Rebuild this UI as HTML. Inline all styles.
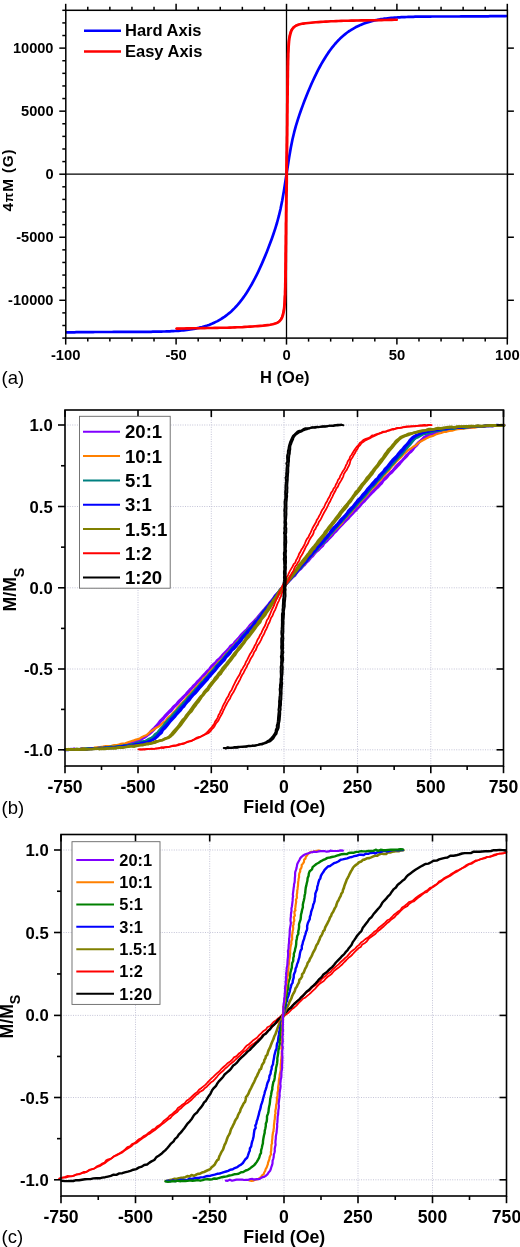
<!DOCTYPE html>
<html lang="en"><head><meta charset="utf-8"><title>Hysteresis loops</title>
<style>
html,body{margin:0;padding:0;background:#fff;}
body{width:520px;height:1247px;overflow:hidden;}
svg{display:block;font-family:"Liberation Sans",Arial,Helvetica,sans-serif;}
</style></head><body>
<svg width="520" height="1247" viewBox="0 0 520 1247">
<rect width="520" height="1247" fill="#fff"/>
<line x1="65.80" y1="174.20" x2="507.40" y2="174.20" stroke="#000" stroke-width="1.30" />
<line x1="286.50" y1="10.30" x2="286.50" y2="338.10" stroke="#000" stroke-width="1.30" />
<path d="M66.0 332.4 L67.7 332.3 L69.4 332.3 L71.1 332.3 L72.8 332.3 L74.5 332.3 L76.2 332.2 L77.9 332.2 L79.6 332.2 L81.3 332.2 L83.0 332.2 L84.7 332.1 L86.4 332.1 L88.1 332.1 L89.8 332.1 L91.5 332.1 L93.2 332.1 L94.9 332.0 L96.6 332.0 L98.4 332.0 L100.1 332.0 L101.8 332.0 L103.5 332.0 L105.2 332.0 L106.9 332.0 L108.6 332.0 L110.3 332.0 L112.0 332.0 L113.7 331.9 L115.4 331.9 L117.1 331.9 L118.8 331.9 L120.5 331.9 L122.2 331.9 L123.9 331.9 L125.6 331.9 L127.3 331.9 L129.0 331.9 L130.7 331.9 L132.4 331.9 L134.1 331.9 L135.8 331.9 L137.5 331.9 L139.2 331.9 L140.9 331.9 L142.6 331.8 L144.3 331.8 L146.0 331.8 L147.7 331.8 L149.4 331.8 L151.1 331.8 L152.8 331.7 L154.5 331.7 L156.2 331.7 L157.9 331.7 L159.6 331.6 L161.4 331.6 L163.1 331.5 L164.8 331.5 L166.5 331.4 L168.2 331.3 L169.9 331.3 L171.6 331.2 L173.3 331.1 L175.0 331.0 L176.7 330.9 L178.4 330.8 L180.1 330.6 L181.8 330.5 L183.5 330.3 L185.2 330.1 L186.9 329.9 L188.6 329.7 L190.3 329.4 L192.0 329.2 L193.7 328.9 L195.4 328.6 L197.1 328.2 L198.8 327.9 L200.5 327.4 L202.2 327.0 L203.9 326.5 L205.6 326.0 L207.3 325.5 L209.0 324.9 L210.7 324.2 L212.4 323.5 L214.1 322.7 L215.8 321.9 L217.5 321.1 L219.2 320.1 L220.9 319.1 L222.6 318.0 L224.4 316.9 L226.1 315.6 L227.8 314.3 L229.5 312.9 L231.2 311.4 L232.9 309.8 L234.6 308.1 L236.3 306.3 L238.0 304.4 L239.7 302.3 L241.4 300.2 L243.1 297.9 L244.8 295.5 L246.5 292.9 L248.2 290.2 L249.9 287.4 L251.6 284.5 L253.3 281.4 L255.0 278.2 L256.7 274.8 L258.4 271.3 L260.1 267.7 L261.8 263.9 L263.5 259.9 L265.2 255.9 L266.9 251.7 L268.6 247.3 L270.3 242.8 L272.0 238.2 L273.7 233.3 L275.4 228.1 L277.1 222.5 L278.8 216.2 L280.5 209.1 L282.2 200.7 L283.9 190.9 L285.6 179.9 L287.4 168.5 L289.1 157.5 L290.8 147.7 L292.5 139.3 L294.2 132.2 L295.9 125.9 L297.6 120.3 L299.3 115.1 L301.0 110.2 L302.7 105.6 L304.4 101.1 L306.1 96.7 L307.8 92.5 L309.5 88.5 L311.2 84.5 L312.9 80.7 L314.6 77.1 L316.3 73.6 L318.0 70.2 L319.7 67.0 L321.4 63.9 L323.1 61.0 L324.8 58.2 L326.5 55.5 L328.2 52.9 L329.9 50.5 L331.6 48.2 L333.3 46.1 L335.0 44.0 L336.7 42.1 L338.4 40.3 L340.1 38.6 L341.8 37.0 L343.5 35.5 L345.2 34.1 L346.9 32.8 L348.6 31.5 L350.4 30.4 L352.1 29.3 L353.8 28.3 L355.5 27.3 L357.2 26.5 L358.9 25.7 L360.6 24.9 L362.3 24.2 L364.0 23.5 L365.7 22.9 L367.4 22.4 L369.1 21.9 L370.8 21.4 L372.5 21.0 L374.2 20.5 L375.9 20.2 L377.6 19.8 L379.3 19.5 L381.0 19.2 L382.7 19.0 L384.4 18.7 L386.1 18.5 L387.8 18.3 L389.5 18.1 L391.2 17.9 L392.9 17.8 L394.6 17.6 L396.3 17.5 L398.0 17.4 L399.7 17.3 L401.4 17.2 L403.1 17.1 L404.8 17.1 L406.5 17.0 L408.2 16.9 L409.9 16.9 L411.6 16.8 L413.4 16.8 L415.1 16.7 L416.8 16.7 L418.5 16.7 L420.2 16.7 L421.9 16.6 L423.6 16.6 L425.3 16.6 L427.0 16.6 L428.7 16.6 L430.4 16.6 L432.1 16.5 L433.8 16.5 L435.5 16.5 L437.2 16.5 L438.9 16.5 L440.6 16.5 L442.3 16.5 L444.0 16.5 L445.7 16.5 L447.4 16.5 L449.1 16.5 L450.8 16.5 L452.5 16.5 L454.2 16.5 L455.9 16.5 L457.6 16.5 L459.3 16.5 L461.0 16.4 L462.7 16.4 L464.4 16.4 L466.1 16.4 L467.8 16.4 L469.5 16.4 L471.2 16.4 L472.9 16.4 L474.6 16.4 L476.4 16.4 L478.1 16.4 L479.8 16.3 L481.5 16.3 L483.2 16.3 L484.9 16.3 L486.6 16.3 L488.3 16.3 L490.0 16.2 L491.7 16.2 L493.4 16.2 L495.1 16.2 L496.8 16.2 L498.5 16.1 L500.2 16.1 L501.9 16.1 L503.6 16.1 L505.3 16.1 L507.0 16.0" fill="none" stroke="#0000ff" stroke-width="2.7" stroke-linejoin="round"/>
<path d="M176.8 328.6 L179.3 328.6 L181.9 328.5 L184.4 328.5 L186.9 328.4 L189.5 328.4 L192.0 328.3 L194.5 328.3 L197.0 328.2 L199.6 328.2 L202.1 328.1 L204.6 328.1 L207.2 328.0 L209.7 328.0 L212.2 328.0 L214.8 327.9 L217.3 327.9 L219.8 327.8 L222.3 327.8 L224.9 327.7 L227.4 327.7 L229.9 327.6 L232.5 327.5 L235.0 327.4 L237.5 327.3 L240.0 327.2 L242.6 327.1 L245.1 326.9 L247.6 326.8 L250.2 326.6 L252.7 326.5 L255.2 326.3 L257.7 326.1 L260.3 325.9 L262.8 325.7 L265.3 325.4 L267.8 325.1 L270.3 324.8 L272.8 324.3 L275.4 323.6 L277.7 322.6 L279.6 321.3 L281.3 319.2 L282.4 317.0 L283.1 314.6 L283.7 312.1 L284.2 309.6 L284.5 307.0 L284.7 304.5 L284.9 302.0 L285.0 299.5 L285.1 296.9 L285.3 294.4 L285.3 291.9 L285.4 289.3 L285.5 286.8 L285.5 284.3 L285.6 281.7 L285.6 279.2 L285.7 276.7 L285.7 274.2 L285.7 271.6 L285.8 269.1 L285.8 266.6 L285.8 264.0 L285.9 261.5 L285.9 259.0 L285.9 256.4 L285.9 253.9 L286.0 251.4 L286.0 248.8 L286.0 246.3 L286.1 243.8 L286.1 241.3 L286.1 238.7 L286.1 236.2 L286.2 233.7 L286.2 231.1 L286.2 228.6 L286.2 226.1 L286.2 223.5 L286.3 221.0 L286.3 218.5 L286.3 216.0 L286.3 213.4 L286.4 210.9 L286.4 208.4 L286.4 205.8 L286.5 203.3 L286.5 200.8 L286.5 198.2 L286.6 195.7 L286.6 193.2 L286.7 190.6 L286.7 188.1 L286.7 185.6 L286.8 183.1 L286.8 180.5 L286.8 178.0 L286.8 175.5 L286.8 172.9 L286.8 170.4 L286.8 167.9 L286.8 165.3 L286.9 162.8 L286.9 160.3 L286.9 157.8 L287.0 155.2 L287.0 152.7 L287.1 150.2 L287.1 147.6 L287.1 145.1 L287.2 142.6 L287.2 140.0 L287.2 137.5 L287.3 135.0 L287.3 132.4 L287.3 129.9 L287.3 127.4 L287.4 124.9 L287.4 122.3 L287.4 119.8 L287.4 117.3 L287.4 114.7 L287.5 112.2 L287.5 109.7 L287.5 107.1 L287.5 104.6 L287.6 102.1 L287.6 99.6 L287.6 97.0 L287.7 94.5 L287.7 92.0 L287.7 89.4 L287.7 86.9 L287.8 84.4 L287.8 81.8 L287.8 79.3 L287.9 76.8 L287.9 74.2 L287.9 71.7 L288.0 69.2 L288.0 66.7 L288.1 64.1 L288.1 61.6 L288.2 59.1 L288.3 56.5 L288.3 54.0 L288.5 51.5 L288.6 48.9 L288.7 46.4 L288.9 43.9 L289.1 41.4 L289.4 38.8 L289.9 36.3 L290.5 33.8 L291.2 31.4 L292.3 29.2 L294.0 27.1 L295.9 25.8 L298.2 24.8 L300.8 24.1 L303.3 23.6 L305.8 23.3 L308.3 23.0 L310.8 22.7 L313.3 22.5 L315.9 22.3 L318.4 22.1 L320.9 21.9 L323.4 21.8 L326.0 21.6 L328.5 21.5 L331.0 21.3 L333.6 21.2 L336.1 21.1 L338.6 21.0 L341.1 20.9 L343.7 20.8 L346.2 20.7 L348.7 20.7 L351.3 20.6 L353.8 20.6 L356.3 20.5 L358.8 20.5 L361.4 20.4 L363.9 20.4 L366.4 20.4 L369.0 20.3 L371.5 20.3 L374.0 20.2 L376.6 20.2 L379.1 20.1 L381.6 20.1 L384.1 20.0 L386.7 20.0 L389.2 19.9 L391.7 19.9 L394.3 19.8 L396.8 19.8" fill="none" stroke="#ff0000" stroke-width="2.60" stroke-linejoin="round" stroke-linecap="round"/>
<path d="M176.0 328.6 L178.5 328.6 L181.1 328.5 L183.6 328.5 L186.1 328.4 L188.7 328.4 L191.2 328.3 L193.7 328.3 L196.2 328.2 L198.8 328.2 L201.3 328.1 L203.8 328.1 L206.4 328.0 L208.9 328.0 L211.4 328.0 L214.0 327.9 L216.5 327.9 L219.0 327.8 L221.5 327.8 L224.1 327.7 L226.6 327.7 L229.1 327.6 L231.7 327.5 L234.2 327.4 L236.7 327.3 L239.2 327.2 L241.8 327.1 L244.3 326.9 L246.8 326.8 L249.4 326.6 L251.9 326.5 L254.4 326.3 L256.9 326.1 L259.5 325.9 L262.0 325.7 L264.5 325.4 L267.0 325.1 L269.5 324.8 L272.0 324.3 L274.6 323.6 L276.9 322.6 L278.8 321.3 L280.5 319.2 L281.6 317.0 L282.3 314.6 L282.9 312.1 L283.4 309.6 L283.7 307.0 L283.9 304.5 L284.1 302.0 L284.2 299.5 L284.3 296.9 L284.5 294.4 L284.5 291.9 L284.6 289.3 L284.7 286.8 L284.7 284.3 L284.8 281.7 L284.8 279.2 L284.9 276.7 L284.9 274.2 L284.9 271.6 L285.0 269.1 L285.0 266.6 L285.0 264.0 L285.1 261.5 L285.1 259.0 L285.1 256.4 L285.1 253.9 L285.2 251.4 L285.2 248.8 L285.2 246.3 L285.3 243.8 L285.3 241.3 L285.3 238.7 L285.3 236.2 L285.4 233.7 L285.4 231.1 L285.4 228.6 L285.4 226.1 L285.4 223.5 L285.5 221.0 L285.5 218.5 L285.5 216.0 L285.5 213.4 L285.6 210.9 L285.6 208.4 L285.6 205.8 L285.7 203.3 L285.7 200.8 L285.7 198.2 L285.8 195.7 L285.8 193.2 L285.9 190.6 L285.9 188.1 L285.9 185.6 L286.0 183.1 L286.0 180.5 L286.0 178.0 L286.0 175.5 L286.0 172.9 L286.0 170.4 L286.0 167.9 L286.0 165.3 L286.1 162.8 L286.1 160.3 L286.1 157.8 L286.2 155.2 L286.2 152.7 L286.3 150.2 L286.3 147.6 L286.3 145.1 L286.4 142.6 L286.4 140.0 L286.4 137.5 L286.5 135.0 L286.5 132.4 L286.5 129.9 L286.5 127.4 L286.6 124.9 L286.6 122.3 L286.6 119.8 L286.6 117.3 L286.6 114.7 L286.7 112.2 L286.7 109.7 L286.7 107.1 L286.7 104.6 L286.8 102.1 L286.8 99.6 L286.8 97.0 L286.9 94.5 L286.9 92.0 L286.9 89.4 L286.9 86.9 L287.0 84.4 L287.0 81.8 L287.0 79.3 L287.1 76.8 L287.1 74.2 L287.1 71.7 L287.2 69.2 L287.2 66.7 L287.3 64.1 L287.3 61.6 L287.4 59.1 L287.5 56.5 L287.5 54.0 L287.7 51.5 L287.8 48.9 L287.9 46.4 L288.1 43.9 L288.3 41.4 L288.6 38.8 L289.1 36.3 L289.7 33.8 L290.4 31.4 L291.5 29.2 L293.2 27.1 L295.1 25.8 L297.4 24.8 L300.0 24.1 L302.5 23.6 L305.0 23.3 L307.5 23.0 L310.0 22.7 L312.5 22.5 L315.1 22.3 L317.6 22.1 L320.1 21.9 L322.6 21.8 L325.2 21.6 L327.7 21.5 L330.2 21.3 L332.8 21.2 L335.3 21.1 L337.8 21.0 L340.3 20.9 L342.9 20.8 L345.4 20.7 L347.9 20.7 L350.5 20.6 L353.0 20.6 L355.5 20.5 L358.0 20.5 L360.6 20.4 L363.1 20.4 L365.6 20.4 L368.2 20.3 L370.7 20.3 L373.2 20.2 L375.8 20.2 L378.3 20.1 L380.8 20.1 L383.3 20.0 L385.9 20.0 L388.4 19.9 L390.9 19.9 L393.5 19.8 L396.0 19.8" fill="none" stroke="#ff0000" stroke-width="1.60" stroke-linejoin="round" stroke-linecap="round"/>
<rect x="65.80" y="10.30" width="441.60" height="327.80" fill="none" stroke="#000" stroke-width="1.50"/>
<line x1="65.70" y1="10.30" x2="65.70" y2="3.80" stroke="#000" stroke-width="1.50" />
<line x1="65.70" y1="338.10" x2="65.70" y2="344.60" stroke="#000" stroke-width="1.50" />
<text x="65.70" y="359.80" font-size="14.80" font-weight="bold" text-anchor="middle" >-100</text>
<line x1="87.78" y1="10.30" x2="87.78" y2="6.80" stroke="#000" stroke-width="1.50" />
<line x1="87.78" y1="338.10" x2="87.78" y2="341.60" stroke="#000" stroke-width="1.50" />
<line x1="109.86" y1="10.30" x2="109.86" y2="6.80" stroke="#000" stroke-width="1.50" />
<line x1="109.86" y1="338.10" x2="109.86" y2="341.60" stroke="#000" stroke-width="1.50" />
<line x1="131.94" y1="10.30" x2="131.94" y2="6.80" stroke="#000" stroke-width="1.50" />
<line x1="131.94" y1="338.10" x2="131.94" y2="341.60" stroke="#000" stroke-width="1.50" />
<line x1="154.02" y1="10.30" x2="154.02" y2="6.80" stroke="#000" stroke-width="1.50" />
<line x1="154.02" y1="338.10" x2="154.02" y2="341.60" stroke="#000" stroke-width="1.50" />
<line x1="176.10" y1="10.30" x2="176.10" y2="3.80" stroke="#000" stroke-width="1.50" />
<line x1="176.10" y1="338.10" x2="176.10" y2="344.60" stroke="#000" stroke-width="1.50" />
<text x="176.10" y="359.80" font-size="14.80" font-weight="bold" text-anchor="middle" >-50</text>
<line x1="198.18" y1="10.30" x2="198.18" y2="6.80" stroke="#000" stroke-width="1.50" />
<line x1="198.18" y1="338.10" x2="198.18" y2="341.60" stroke="#000" stroke-width="1.50" />
<line x1="220.26" y1="10.30" x2="220.26" y2="6.80" stroke="#000" stroke-width="1.50" />
<line x1="220.26" y1="338.10" x2="220.26" y2="341.60" stroke="#000" stroke-width="1.50" />
<line x1="242.34" y1="10.30" x2="242.34" y2="6.80" stroke="#000" stroke-width="1.50" />
<line x1="242.34" y1="338.10" x2="242.34" y2="341.60" stroke="#000" stroke-width="1.50" />
<line x1="264.42" y1="10.30" x2="264.42" y2="6.80" stroke="#000" stroke-width="1.50" />
<line x1="264.42" y1="338.10" x2="264.42" y2="341.60" stroke="#000" stroke-width="1.50" />
<line x1="286.50" y1="10.30" x2="286.50" y2="3.80" stroke="#000" stroke-width="1.50" />
<line x1="286.50" y1="338.10" x2="286.50" y2="344.60" stroke="#000" stroke-width="1.50" />
<text x="286.50" y="359.80" font-size="14.80" font-weight="bold" text-anchor="middle" >0</text>
<line x1="308.58" y1="10.30" x2="308.58" y2="6.80" stroke="#000" stroke-width="1.50" />
<line x1="308.58" y1="338.10" x2="308.58" y2="341.60" stroke="#000" stroke-width="1.50" />
<line x1="330.66" y1="10.30" x2="330.66" y2="6.80" stroke="#000" stroke-width="1.50" />
<line x1="330.66" y1="338.10" x2="330.66" y2="341.60" stroke="#000" stroke-width="1.50" />
<line x1="352.74" y1="10.30" x2="352.74" y2="6.80" stroke="#000" stroke-width="1.50" />
<line x1="352.74" y1="338.10" x2="352.74" y2="341.60" stroke="#000" stroke-width="1.50" />
<line x1="374.82" y1="10.30" x2="374.82" y2="6.80" stroke="#000" stroke-width="1.50" />
<line x1="374.82" y1="338.10" x2="374.82" y2="341.60" stroke="#000" stroke-width="1.50" />
<line x1="396.90" y1="10.30" x2="396.90" y2="3.80" stroke="#000" stroke-width="1.50" />
<line x1="396.90" y1="338.10" x2="396.90" y2="344.60" stroke="#000" stroke-width="1.50" />
<text x="396.90" y="359.80" font-size="14.80" font-weight="bold" text-anchor="middle" >50</text>
<line x1="418.98" y1="10.30" x2="418.98" y2="6.80" stroke="#000" stroke-width="1.50" />
<line x1="418.98" y1="338.10" x2="418.98" y2="341.60" stroke="#000" stroke-width="1.50" />
<line x1="441.06" y1="10.30" x2="441.06" y2="6.80" stroke="#000" stroke-width="1.50" />
<line x1="441.06" y1="338.10" x2="441.06" y2="341.60" stroke="#000" stroke-width="1.50" />
<line x1="463.14" y1="10.30" x2="463.14" y2="6.80" stroke="#000" stroke-width="1.50" />
<line x1="463.14" y1="338.10" x2="463.14" y2="341.60" stroke="#000" stroke-width="1.50" />
<line x1="485.22" y1="10.30" x2="485.22" y2="6.80" stroke="#000" stroke-width="1.50" />
<line x1="485.22" y1="338.10" x2="485.22" y2="341.60" stroke="#000" stroke-width="1.50" />
<line x1="507.30" y1="10.30" x2="507.30" y2="3.80" stroke="#000" stroke-width="1.50" />
<line x1="507.30" y1="338.10" x2="507.30" y2="344.60" stroke="#000" stroke-width="1.50" />
<text x="507.30" y="359.80" font-size="14.80" font-weight="bold" text-anchor="middle" >100</text>
<line x1="65.80" y1="338.10" x2="62.30" y2="338.10" stroke="#000" stroke-width="1.50" />
<line x1="65.80" y1="325.49" x2="62.30" y2="325.49" stroke="#000" stroke-width="1.50" />
<line x1="65.80" y1="312.88" x2="62.30" y2="312.88" stroke="#000" stroke-width="1.50" />
<line x1="65.80" y1="300.28" x2="59.30" y2="300.28" stroke="#000" stroke-width="1.50" />
<line x1="507.40" y1="300.28" x2="513.90" y2="300.28" stroke="#000" stroke-width="1.50" />
<text x="53.50" y="305.48" font-size="14.60" font-weight="bold" text-anchor="end" >-10000</text>
<line x1="65.80" y1="287.67" x2="62.30" y2="287.67" stroke="#000" stroke-width="1.50" />
<line x1="65.80" y1="275.06" x2="62.30" y2="275.06" stroke="#000" stroke-width="1.50" />
<line x1="65.80" y1="262.45" x2="62.30" y2="262.45" stroke="#000" stroke-width="1.50" />
<line x1="65.80" y1="249.85" x2="62.30" y2="249.85" stroke="#000" stroke-width="1.50" />
<line x1="65.80" y1="237.24" x2="59.30" y2="237.24" stroke="#000" stroke-width="1.50" />
<line x1="507.40" y1="237.24" x2="513.90" y2="237.24" stroke="#000" stroke-width="1.50" />
<text x="53.50" y="242.44" font-size="14.60" font-weight="bold" text-anchor="end" >-5000</text>
<line x1="65.80" y1="224.63" x2="62.30" y2="224.63" stroke="#000" stroke-width="1.50" />
<line x1="65.80" y1="212.02" x2="62.30" y2="212.02" stroke="#000" stroke-width="1.50" />
<line x1="65.80" y1="199.42" x2="62.30" y2="199.42" stroke="#000" stroke-width="1.50" />
<line x1="65.80" y1="186.81" x2="62.30" y2="186.81" stroke="#000" stroke-width="1.50" />
<line x1="65.80" y1="174.20" x2="59.30" y2="174.20" stroke="#000" stroke-width="1.50" />
<line x1="507.40" y1="174.20" x2="513.90" y2="174.20" stroke="#000" stroke-width="1.50" />
<text x="53.50" y="179.40" font-size="14.60" font-weight="bold" text-anchor="end" >0</text>
<line x1="65.80" y1="161.59" x2="62.30" y2="161.59" stroke="#000" stroke-width="1.50" />
<line x1="65.80" y1="148.98" x2="62.30" y2="148.98" stroke="#000" stroke-width="1.50" />
<line x1="65.80" y1="136.38" x2="62.30" y2="136.38" stroke="#000" stroke-width="1.50" />
<line x1="65.80" y1="123.77" x2="62.30" y2="123.77" stroke="#000" stroke-width="1.50" />
<line x1="65.80" y1="111.16" x2="59.30" y2="111.16" stroke="#000" stroke-width="1.50" />
<line x1="507.40" y1="111.16" x2="513.90" y2="111.16" stroke="#000" stroke-width="1.50" />
<text x="53.50" y="116.36" font-size="14.60" font-weight="bold" text-anchor="end" >5000</text>
<line x1="65.80" y1="98.55" x2="62.30" y2="98.55" stroke="#000" stroke-width="1.50" />
<line x1="65.80" y1="85.95" x2="62.30" y2="85.95" stroke="#000" stroke-width="1.50" />
<line x1="65.80" y1="73.34" x2="62.30" y2="73.34" stroke="#000" stroke-width="1.50" />
<line x1="65.80" y1="60.73" x2="62.30" y2="60.73" stroke="#000" stroke-width="1.50" />
<line x1="65.80" y1="48.12" x2="59.30" y2="48.12" stroke="#000" stroke-width="1.50" />
<line x1="507.40" y1="48.12" x2="513.90" y2="48.12" stroke="#000" stroke-width="1.50" />
<text x="53.50" y="53.32" font-size="14.60" font-weight="bold" text-anchor="end" >10000</text>
<line x1="65.80" y1="35.52" x2="62.30" y2="35.52" stroke="#000" stroke-width="1.50" />
<line x1="65.80" y1="22.91" x2="62.30" y2="22.91" stroke="#000" stroke-width="1.50" />
<line x1="65.80" y1="10.30" x2="62.30" y2="10.30" stroke="#000" stroke-width="1.50" />
<text x="284.80" y="383.00" font-size="16.50" font-weight="bold" text-anchor="middle" >H (Oe)</text>
<text transform="translate(13.3,180) rotate(-90)" font-size="15.4" font-weight="bold" text-anchor="middle" letter-spacing="0.8">4<tspan font-size="12.5">π</tspan>M (G)</text>
<text x="1.50" y="383.50" font-size="18.50" font-weight="normal" text-anchor="start" >(a)</text>
<line x1="84.00" y1="30.80" x2="121.00" y2="30.80" stroke="#0000ff" stroke-width="2.40" />
<line x1="84.00" y1="51.50" x2="121.00" y2="51.50" stroke="#ff0000" stroke-width="2.40" />
<text x="125.00" y="36.30" font-size="16.50" font-weight="bold" text-anchor="start" >Hard Axis</text>
<text x="125.00" y="57.20" font-size="16.50" font-weight="bold" text-anchor="start" >Easy Axis</text>
<line x1="65.00" y1="425.00" x2="503.50" y2="425.00" stroke="#bdbdd2" stroke-width="0.90" stroke-dasharray="1 1.4"/>
<line x1="65.00" y1="506.50" x2="503.50" y2="506.50" stroke="#bdbdd2" stroke-width="0.90" stroke-dasharray="1 1.4"/>
<line x1="65.00" y1="587.80" x2="503.50" y2="587.80" stroke="#bdbdd2" stroke-width="0.90" stroke-dasharray="1 1.4"/>
<line x1="65.00" y1="669.00" x2="503.50" y2="669.00" stroke="#bdbdd2" stroke-width="0.90" stroke-dasharray="1 1.4"/>
<line x1="65.00" y1="749.80" x2="503.50" y2="749.80" stroke="#bdbdd2" stroke-width="0.90" stroke-dasharray="1 1.4"/>
<line x1="138.00" y1="410.00" x2="138.00" y2="766.00" stroke="#bdbdd2" stroke-width="0.90" stroke-dasharray="1 1.4"/>
<line x1="211.30" y1="410.00" x2="211.30" y2="766.00" stroke="#bdbdd2" stroke-width="0.90" stroke-dasharray="1 1.4"/>
<line x1="284.00" y1="410.00" x2="284.00" y2="766.00" stroke="#bdbdd2" stroke-width="0.90" stroke-dasharray="1 1.4"/>
<line x1="357.50" y1="410.00" x2="357.50" y2="766.00" stroke="#bdbdd2" stroke-width="0.90" stroke-dasharray="1 1.4"/>
<line x1="430.80" y1="410.00" x2="430.80" y2="766.00" stroke="#bdbdd2" stroke-width="0.90" stroke-dasharray="1 1.4"/>
<path d="M65.4 749.7 L68.3 749.7 L70.7 749.5 L73.8 749.0 L76.5 749.4 L79.5 749.1 L82.1 748.8 L85.5 748.8 L87.9 748.6 L90.9 748.4 L93.9 748.1 L96.6 748.1 L99.5 747.6 L102.3 747.5 L105.2 747.2 L107.9 747.1 L110.9 746.7 L113.8 746.3 L116.6 745.9 L119.5 745.6 L122.3 745.2 L125.3 744.6 L127.9 744.2 L130.7 743.5 L133.4 741.8 L136.1 741.0 L138.7 740.3 L141.5 739.0 L143.7 737.6 L146.1 735.9 L148.4 734.4 L150.4 731.6 L152.3 729.7 L154.0 728.1 L156.3 725.7 L158.1 723.5 L159.8 721.1 L162.1 718.8 L163.8 717.1 L165.7 714.9 L167.9 712.6 L169.8 710.6 L171.8 708.6 L173.5 706.4 L176.0 704.5 L177.6 702.4 L179.5 700.3 L181.8 698.1 L183.6 696.3 L185.7 694.3 L187.5 692.0 L189.6 689.7 L191.6 687.9 L193.4 685.6 L195.6 683.8 L197.4 681.3 L199.3 679.6 L201.4 677.3 L203.4 675.0 L205.3 673.1 L207.1 671.1 L209.3 669.0 L210.9 666.7 L213.0 664.5 L215.2 662.7 L216.9 660.5 L219.1 658.6 L221.1 656.6 L223.2 654.0 L224.9 652.3 L226.9 650.4 L229.0 648.0 L230.6 645.8 L233.4 644.0 L234.7 641.8 L236.7 639.9 L238.9 637.5 L240.7 635.1 L242.4 633.3 L244.7 631.2 L246.7 629.3 L248.5 627.1 L250.4 624.6 L252.5 622.5 L254.2 620.9 L256.3 618.7 L258.2 616.2 L259.9 614.2 L261.7 612.1 L263.7 609.9 L265.4 607.8 L267.5 605.4 L269.2 603.1 L271.1 600.9 L272.8 598.9 L274.7 595.9 L276.3 594.2 L278.4 592.0 L280.4 589.5 L282.0 587.7 L283.8 585.3 L285.8 583.5 L287.7 581.2 L289.6 579.3 L291.7 577.3 L293.6 575.0 L295.9 572.7 L297.6 570.5 L299.7 569.1 L301.8 566.6 L303.5 564.4 L305.8 562.5 L307.5 560.4 L309.4 558.5 L311.4 556.2 L313.4 554.1 L315.2 551.9 L317.4 550.1 L319.1 547.6 L321.6 545.9 L323.3 544.0 L325.2 541.3 L327.1 539.0 L329.2 537.5 L331.2 535.9 L333.0 533.0 L335.0 530.9 L337.1 529.2 L339.0 526.8 L341.2 524.7 L343.2 522.7 L345.0 520.8 L347.0 518.5 L348.7 516.6 L351.0 514.4 L352.8 512.1 L354.9 510.2 L357.0 507.9 L358.4 506.0 L360.8 503.7 L362.5 501.6 L364.7 500.1 L366.4 497.7 L368.5 495.6 L370.6 493.6 L372.6 491.3 L374.5 489.3 L376.3 487.3 L378.4 485.2 L380.5 482.8 L382.4 481.1 L384.1 478.7 L386.5 476.5 L388.4 474.5 L390.4 472.5 L392.2 470.9 L394.4 468.2 L396.0 466.4 L398.3 463.8 L400.1 462.2 L402.2 460.3 L404.2 457.9 L405.9 455.7 L408.0 453.8 L409.9 451.8 L412.0 449.6 L413.8 447.8 L415.5 445.3 L417.7 443.0 L419.8 441.1 L422.1 439.2 L423.8 437.4 L426.5 435.9 L429.4 434.7 L431.6 433.3 L434.3 432.8 L437.3 431.6 L440.2 430.8 L442.7 430.5 L445.7 430.1 L448.5 429.4 L451.6 429.0 L454.2 428.4 L457.2 428.9 L459.7 428.2 L462.7 427.5 L465.6 427.3 L468.7 427.3 L471.4 426.7 L474.1 426.9 L477.2 426.6 L480.1 426.7 L482.8 426.5 L485.6 425.5 L488.5 426.0 L491.1 425.5 L494.3 425.9 L497.2 425.6 L499.9 425.6 L503.0 425.2" fill="none" stroke="#8000ff" stroke-width="2.40" stroke-linejoin="round" stroke-linecap="round"/>
<path d="M66.4 749.6 L69.1 749.4 L72.2 749.3 L74.8 748.8 L78.0 749.6 L80.7 749.3 L83.3 748.8 L86.1 748.9 L89.2 748.6 L92.3 748.2 L95.0 748.4 L97.9 747.9 L100.7 747.7 L103.7 747.3 L106.5 747.4 L109.4 747.0 L112.0 746.8 L115.2 746.3 L118.1 746.1 L120.5 745.5 L123.9 745.4 L126.5 744.7 L129.1 744.0 L131.6 743.3 L134.8 742.1 L137.5 741.6 L140.0 740.7 L142.4 738.7 L145.3 737.2 L147.3 735.5 L149.5 734.1 L152.0 731.9 L153.9 730.0 L155.6 727.8 L157.3 725.6 L159.4 723.4 L160.9 721.2 L163.2 719.3 L165.0 716.8 L166.9 714.8 L168.8 712.9 L171.1 711.1 L173.0 708.5 L175.0 706.3 L177.1 704.4 L178.8 702.6 L180.7 700.3 L182.6 698.5 L184.8 695.7 L186.9 694.3 L188.8 692.2 L190.9 689.6 L192.5 687.8 L194.6 686.0 L196.5 683.6 L198.4 681.7 L200.9 679.9 L202.7 677.4 L204.4 675.2 L206.4 673.0 L208.5 671.2 L210.2 668.9 L212.5 666.8 L214.2 664.8 L216.3 662.8 L218.2 660.4 L220.2 658.2 L222.1 655.9 L224.0 654.6 L226.1 652.3 L228.1 650.5 L230.1 648.1 L232.1 645.8 L234.3 644.0 L236.2 641.8 L238.0 639.4 L240.1 637.4 L241.8 635.9 L244.1 633.4 L245.9 631.3 L247.6 629.1 L249.8 626.9 L251.8 625.1 L253.2 622.8 L255.4 620.5 L257.4 618.5 L259.0 616.2 L261.1 614.2 L263.0 612.3 L265.0 609.6 L266.8 607.9 L269.0 605.2 L270.3 603.2 L272.4 600.7 L274.0 598.6 L275.9 596.5 L277.5 594.1 L279.2 591.9 L281.2 589.7 L283.3 587.5 L285.3 585.1 L287.1 583.3 L289.0 581.3 L290.8 579.3 L293.1 577.2 L295.1 575.5 L296.8 572.9 L298.8 570.7 L300.7 569.1 L303.0 566.4 L304.9 564.8 L306.8 562.3 L308.8 560.5 L310.8 557.9 L312.6 556.4 L314.5 554.1 L316.4 551.8 L318.3 550.3 L320.6 548.0 L322.9 545.8 L324.2 543.5 L326.5 541.6 L328.5 539.5 L330.3 537.6 L332.4 535.5 L334.2 533.1 L336.5 531.0 L338.2 528.9 L340.3 526.7 L342.3 524.7 L344.1 522.7 L345.9 520.8 L348.1 518.9 L350.2 516.3 L352.1 514.5 L354.1 512.2 L355.8 510.7 L358.0 508.1 L360.1 506.1 L361.9 503.7 L364.2 501.7 L365.8 499.8 L367.7 497.6 L369.5 495.7 L371.9 493.1 L373.7 491.5 L375.9 489.1 L377.7 487.6 L379.9 485.1 L381.8 483.3 L383.5 480.6 L385.6 478.9 L387.7 476.6 L389.3 474.6 L391.7 472.6 L393.6 470.4 L395.6 468.5 L397.4 466.5 L399.4 464.4 L401.2 462.1 L403.3 459.8 L405.2 457.8 L407.2 455.8 L409.1 453.3 L411.2 451.8 L413.2 449.4 L414.7 447.3 L417.0 445.4 L418.5 443.3 L420.5 441.1 L423.0 438.9 L425.3 437.5 L427.8 436.0 L430.1 434.5 L433.0 433.9 L435.7 432.7 L438.7 431.3 L441.2 431.1 L444.1 430.1 L446.7 430.1 L449.7 429.5 L452.5 428.7 L455.5 428.4 L458.1 428.3 L461.0 427.9 L464.0 428.1 L467.1 427.6 L469.7 427.2 L472.6 427.2 L475.4 426.4 L478.4 426.7 L481.2 426.7 L484.3 426.3 L486.9 426.0 L489.6 426.1 L492.5 426.3 L495.3 425.7 L498.2 425.3 L501.4 425.8 L504.2 425.0" fill="none" stroke="#8000ff" stroke-width="2.40" stroke-linejoin="round" stroke-linecap="round"/>
<path d="M66.0 750.0 L68.6 748.9 L71.5 749.5 L74.3 749.1 L76.9 749.0 L80.2 748.8 L82.6 748.2 L85.9 748.4 L88.6 748.0 L91.6 748.7 L94.3 747.7 L97.0 747.3 L100.1 747.1 L102.8 746.7 L105.7 746.2 L108.6 746.0 L111.4 745.8 L114.2 745.2 L116.9 745.0 L119.9 744.2 L122.3 743.7 L125.4 743.3 L128.0 742.3 L131.1 741.2 L133.9 740.4 L136.1 739.6 L139.1 738.9 L141.7 737.3 L144.2 736.0 L146.9 734.9 L149.1 732.9 L151.1 731.2 L153.6 729.7 L156.0 728.0 L158.6 726.6 L160.7 725.1 L163.2 722.4 L165.3 721.3 L167.0 718.8 L169.1 716.6 L171.1 715.0 L173.0 713.0 L175.3 710.6 L177.0 708.3 L178.7 706.4 L180.6 704.2 L182.6 702.3 L184.8 700.0 L186.4 697.8 L188.3 695.8 L190.3 693.4 L192.1 691.1 L194.4 689.3 L195.9 687.2 L198.1 684.9 L199.9 682.7 L201.9 680.8 L203.5 678.1 L205.9 676.6 L207.6 674.5 L209.5 671.9 L211.3 670.1 L213.3 667.8 L215.4 666.0 L217.4 663.3 L219.3 661.4 L221.3 659.7 L223.1 657.7 L225.0 654.8 L227.0 653.1 L228.9 651.1 L230.7 648.8 L232.8 647.2 L234.8 644.4 L236.5 642.6 L238.4 640.2 L240.4 638.6 L242.5 636.1 L244.1 633.9 L246.1 631.5 L248.0 630.1 L250.1 627.7 L251.5 625.6 L253.7 623.5 L255.7 621.2 L257.3 618.8 L259.5 616.6 L261.2 614.4 L262.9 612.7 L264.8 609.8 L266.3 607.8 L268.3 605.6 L270.4 603.4 L271.7 601.2 L273.9 598.6 L275.4 596.2 L277.3 594.3 L279.0 592.4 L280.4 590.0 L282.5 587.7 L284.5 585.4 L286.2 583.4 L288.0 581.1 L290.2 579.2 L292.0 576.7 L293.8 574.8 L295.9 572.7 L298.0 570.7 L299.8 568.5 L302.0 566.9 L304.0 564.6 L305.7 562.5 L307.5 559.6 L309.4 557.9 L311.5 555.7 L313.6 553.8 L315.4 551.1 L317.4 549.7 L319.1 547.6 L321.2 544.9 L323.0 542.9 L324.9 540.8 L326.7 538.8 L328.6 536.9 L330.7 535.0 L332.5 532.4 L334.5 530.5 L336.7 528.3 L338.5 526.5 L340.9 524.1 L342.5 522.2 L344.2 519.5 L346.3 517.6 L348.2 515.3 L349.9 513.7 L352.1 511.4 L353.8 509.1 L355.4 506.9 L357.9 505.0 L359.6 502.6 L361.8 500.4 L363.4 498.6 L365.3 496.9 L367.6 494.2 L369.2 492.0 L371.3 489.8 L373.4 487.6 L375.1 485.9 L377.0 483.8 L379.0 481.5 L381.0 479.5 L382.7 477.3 L384.8 475.2 L386.7 472.6 L388.9 470.7 L390.3 468.7 L392.1 466.3 L394.3 464.2 L396.0 462.0 L398.1 460.0 L400.0 458.2 L402.2 455.9 L403.9 453.9 L406.1 452.1 L407.9 450.2 L410.5 448.8 L413.4 446.6 L415.4 445.7 L417.7 443.6 L419.8 441.9 L422.5 440.5 L424.9 439.2 L427.3 437.9 L430.2 436.6 L432.8 435.9 L435.6 434.5 L438.1 433.6 L441.2 433.0 L443.8 432.0 L446.5 431.8 L449.2 431.0 L452.1 430.7 L455.1 429.7 L457.7 429.2 L460.8 428.9 L463.6 428.7 L466.5 428.1 L469.3 428.0 L472.0 427.6 L474.6 427.7 L477.8 426.9 L480.7 427.0 L483.5 426.4 L486.4 426.1 L489.1 426.0 L492.0 425.7 L494.7 425.8 L498.0 425.9 L500.7 425.5 L503.4 425.5" fill="none" stroke="#ff8000" stroke-width="2.20" stroke-linejoin="round" stroke-linecap="round"/>
<path d="M65.0 749.6 L68.1 749.6 L71.1 749.9 L73.5 749.6 L76.9 748.9 L79.2 749.2 L82.4 748.9 L85.4 748.9 L88.1 748.4 L90.9 748.6 L94.1 748.4 L97.1 748.6 L99.8 748.1 L102.9 747.9 L105.5 747.3 L108.8 747.9 L111.4 746.7 L114.3 747.1 L117.2 746.5 L120.1 746.0 L123.2 745.7 L126.1 745.3 L128.7 745.0 L131.5 744.4 L134.1 744.1 L137.0 742.8 L140.0 742.5 L142.8 741.5 L145.5 741.0 L148.2 739.2 L150.8 738.2 L152.9 736.7 L155.0 734.3 L157.3 732.7 L159.2 730.3 L160.9 728.4 L163.1 726.2 L164.7 723.6 L166.7 721.5 L168.4 719.4 L170.7 717.5 L172.5 715.3 L174.6 712.8 L176.5 710.7 L178.3 708.5 L180.3 706.3 L182.3 704.3 L184.1 702.1 L186.0 700.4 L187.9 697.7 L190.0 695.6 L191.9 693.6 L194.0 691.1 L195.6 689.1 L197.7 687.0 L199.4 685.0 L201.5 682.4 L203.3 680.8 L205.5 678.2 L207.3 676.2 L209.0 674.2 L211.1 672.0 L213.0 669.9 L214.8 667.5 L216.8 665.3 L218.6 663.2 L221.1 660.8 L222.6 659.1 L224.7 656.5 L226.3 654.2 L228.2 652.8 L230.3 650.1 L232.2 647.7 L234.2 646.2 L235.9 643.6 L238.0 641.7 L240.1 639.1 L241.6 637.1 L243.8 634.6 L245.5 632.4 L247.6 630.4 L249.5 628.4 L251.6 626.4 L253.1 624.6 L255.1 621.6 L257.1 619.8 L258.6 617.3 L260.6 615.1 L262.3 612.6 L264.1 610.3 L266.1 608.2 L267.9 605.8 L270.0 603.7 L271.5 601.3 L273.3 599.4 L274.8 596.8 L276.6 594.5 L278.4 592.5 L279.8 590.1 L282.3 587.7 L283.8 585.5 L285.6 583.3 L287.5 581.3 L289.7 579.1 L291.6 576.8 L293.3 574.7 L295.4 572.3 L297.2 570.4 L299.0 567.8 L301.2 566.3 L303.1 563.8 L304.8 561.7 L307.1 559.6 L308.7 557.3 L310.9 555.1 L312.6 553.3 L314.5 550.9 L316.5 548.5 L318.6 546.6 L320.2 544.0 L322.3 542.5 L324.5 540.0 L326.1 537.9 L328.1 536.2 L330.2 534.0 L331.9 531.4 L334.0 529.3 L335.7 527.3 L337.9 525.2 L339.7 522.7 L341.5 520.5 L343.7 518.6 L345.4 516.2 L347.3 514.2 L349.2 512.0 L351.1 509.4 L353.1 507.3 L355.1 504.8 L357.2 503.1 L358.7 501.3 L360.8 498.6 L362.9 497.0 L364.7 494.7 L366.7 492.3 L368.8 490.2 L370.5 488.0 L372.5 485.7 L374.3 483.6 L376.5 481.5 L378.3 479.5 L380.0 477.4 L382.1 474.9 L383.8 473.0 L386.0 470.5 L387.9 468.5 L389.7 466.4 L391.6 464.2 L393.3 462.0 L395.6 459.9 L397.4 457.6 L399.3 455.4 L401.4 453.3 L403.1 451.4 L405.0 449.0 L406.9 447.3 L408.7 444.7 L411.2 441.8 L412.8 440.3 L414.9 438.7 L417.4 436.7 L419.3 435.2 L422.5 434.0 L425.2 433.6 L427.9 432.7 L430.9 432.0 L433.4 431.3 L436.5 430.9 L439.5 430.3 L441.9 429.3 L444.9 429.3 L447.9 428.8 L450.8 428.4 L453.6 428.3 L456.6 427.9 L459.5 427.0 L462.2 427.7 L465.2 427.4 L468.0 427.0 L470.7 426.7 L473.6 426.7 L477.0 426.2 L479.7 426.3 L482.9 426.1 L485.3 425.9 L488.3 425.6 L491.3 425.5 L494.2 425.8 L497.2 425.8 L500.0 425.5 L502.8 425.3" fill="none" stroke="#008080" stroke-width="2.40" stroke-linejoin="round" stroke-linecap="round"/>
<path d="M66.2 749.5 L68.9 749.3 L72.0 749.5 L75.0 749.5 L78.1 749.6 L80.6 749.2 L83.8 748.9 L86.7 748.7 L89.4 748.9 L92.3 748.9 L95.5 748.4 L98.4 747.9 L101.2 747.8 L104.0 748.2 L107.0 747.7 L109.7 747.0 L112.6 747.1 L115.3 746.6 L118.4 746.4 L121.2 746.1 L124.5 745.7 L126.9 745.5 L130.0 744.9 L132.9 744.3 L135.5 743.9 L138.5 743.4 L140.8 742.1 L144.0 741.7 L146.9 740.6 L149.0 739.7 L151.8 738.0 L154.4 736.6 L156.4 734.6 L158.2 732.4 L160.2 730.1 L162.1 728.1 L164.2 725.7 L166.1 723.5 L167.9 721.7 L169.8 719.2 L171.8 717.6 L173.9 715.3 L175.7 712.5 L177.7 710.9 L179.5 708.4 L181.2 706.5 L183.2 704.3 L185.4 701.7 L187.2 699.9 L189.0 697.8 L190.8 695.9 L193.0 693.2 L194.8 691.5 L196.8 688.9 L198.7 686.9 L200.7 684.6 L202.6 683.0 L204.7 680.6 L206.6 678.8 L208.6 676.3 L210.4 674.2 L212.2 672.0 L214.1 669.5 L216.1 667.5 L217.9 665.6 L220.0 663.1 L222.0 661.0 L223.7 658.8 L225.4 656.8 L227.8 654.4 L229.6 652.3 L231.6 650.2 L233.2 648.0 L235.6 645.6 L237.3 643.8 L239.1 641.2 L241.0 639.0 L243.0 636.8 L244.9 635.2 L246.8 632.7 L248.5 630.4 L250.8 628.2 L252.5 626.3 L254.4 623.8 L256.3 621.5 L257.8 619.7 L260.1 617.1 L261.8 615.1 L263.6 612.9 L265.5 610.5 L267.1 608.3 L269.1 606.3 L270.6 603.6 L272.4 601.1 L274.1 598.7 L276.0 596.8 L277.9 594.4 L279.5 592.3 L281.1 589.9 L283.4 587.6 L284.9 585.3 L287.1 583.2 L288.8 581.1 L290.6 578.8 L292.5 576.8 L294.6 575.0 L296.6 572.5 L298.4 569.9 L300.5 568.5 L302.7 566.0 L304.3 563.6 L306.1 561.9 L308.0 559.5 L309.9 557.2 L311.9 555.0 L313.8 552.8 L315.7 550.9 L317.9 548.9 L319.3 546.4 L321.4 544.4 L323.9 542.6 L325.6 539.7 L327.5 537.9 L329.4 535.6 L331.5 533.3 L333.3 531.1 L335.1 529.2 L336.8 527.1 L338.9 524.7 L340.8 522.7 L342.7 520.7 L344.6 518.4 L346.6 516.4 L348.5 514.1 L350.6 512.0 L352.2 510.1 L354.3 507.7 L356.6 505.4 L358.2 503.3 L360.3 500.8 L362.2 498.8 L364.2 496.9 L366.0 494.7 L367.6 492.7 L369.7 490.2 L371.6 487.7 L373.3 486.3 L375.4 483.9 L377.2 481.3 L379.1 479.7 L381.3 477.2 L383.2 474.6 L385.0 472.8 L386.9 470.6 L388.9 468.9 L390.8 466.2 L392.8 464.1 L394.7 462.0 L396.6 459.8 L398.7 457.5 L400.6 455.6 L402.5 453.6 L404.3 451.3 L406.2 448.8 L408.3 446.6 L410.1 444.7 L412.0 442.3 L413.6 440.2 L415.7 438.0 L418.5 437.1 L421.1 435.5 L423.9 434.0 L426.5 433.5 L429.3 432.8 L432.1 431.3 L434.7 431.1 L437.9 430.5 L440.5 430.2 L443.5 429.6 L446.3 429.1 L449.2 428.8 L452.2 428.8 L454.8 428.6 L457.7 427.7 L460.6 427.4 L463.5 428.0 L466.7 427.0 L469.3 426.9 L472.4 426.8 L475.3 426.7 L478.2 426.7 L481.1 426.4 L483.7 425.9 L486.8 426.1 L489.9 425.9 L492.4 426.1 L495.4 425.6 L498.2 425.2 L501.3 425.1 L503.9 425.6" fill="none" stroke="#008080" stroke-width="2.40" stroke-linejoin="round" stroke-linecap="round"/>
<path d="M64.8 750.0 L68.0 750.1 L70.7 749.1 L73.9 749.5 L76.4 749.7 L79.4 749.6 L82.3 749.3 L85.6 749.4 L88.5 749.0 L91.4 748.9 L94.3 748.7 L97.2 748.2 L100.1 748.1 L102.6 748.2 L105.8 747.9 L108.6 748.1 L111.5 747.9 L114.3 747.8 L117.6 747.1 L120.3 747.1 L122.9 746.3 L126.1 746.0 L128.9 745.8 L131.6 745.4 L134.6 744.5 L137.4 743.9 L140.0 743.8 L143.0 742.8 L146.1 742.4 L148.8 741.4 L151.5 740.2 L153.8 738.7 L156.1 737.0 L158.2 734.6 L160.1 732.7 L161.7 730.1 L163.6 727.9 L165.8 725.6 L167.6 723.7 L169.4 721.4 L171.2 719.0 L173.2 717.4 L175.4 714.7 L177.3 712.5 L179.0 710.5 L180.7 708.6 L183.1 706.0 L185.0 704.0 L186.9 701.6 L188.7 699.1 L190.2 697.4 L192.2 695.2 L194.4 692.8 L196.2 690.6 L198.2 688.1 L200.0 685.9 L201.9 683.9 L203.9 682.0 L205.7 679.5 L207.7 677.5 L209.6 675.4 L211.5 673.0 L213.6 671.0 L215.5 669.0 L217.0 666.2 L219.1 664.4 L221.0 661.6 L223.1 660.0 L224.7 657.7 L226.9 655.3 L228.8 653.0 L230.7 651.1 L232.4 648.8 L234.4 646.7 L236.1 644.2 L238.3 642.4 L240.3 639.8 L241.8 637.8 L243.8 635.5 L245.8 633.7 L247.6 630.9 L249.8 628.9 L251.5 627.0 L253.4 624.4 L255.0 622.0 L257.3 620.1 L258.9 617.7 L260.9 615.7 L262.5 613.0 L264.0 611.0 L265.8 608.8 L267.6 606.5 L269.6 603.7 L271.2 601.9 L273.1 599.1 L274.8 596.6 L276.6 594.4 L278.4 592.3 L280.1 589.9 L281.6 587.8 L283.6 585.6 L285.8 583.3 L287.3 581.0 L289.6 579.2 L291.5 576.1 L293.1 574.0 L295.2 572.1 L296.8 569.8 L299.1 567.3 L300.8 565.5 L302.6 563.3 L304.7 560.8 L306.6 559.3 L308.5 557.2 L310.5 555.0 L312.4 552.4 L314.2 550.4 L316.4 547.9 L318.5 546.0 L320.0 543.6 L321.8 541.6 L323.7 539.3 L325.9 537.4 L327.6 535.1 L329.6 533.0 L331.2 530.2 L333.2 528.0 L335.1 526.2 L337.4 523.8 L339.1 521.8 L340.6 519.6 L343.0 517.4 L345.0 515.4 L347.0 513.1 L348.2 510.9 L350.6 508.4 L352.6 506.7 L354.5 504.2 L356.3 502.2 L357.9 499.8 L360.1 497.9 L362.0 495.4 L364.0 493.2 L365.9 491.0 L367.7 488.6 L369.8 486.5 L371.4 484.4 L373.4 482.2 L375.4 479.8 L377.4 478.3 L379.2 475.4 L381.3 473.3 L383.1 471.7 L384.8 468.9 L386.9 467.0 L388.6 464.8 L390.5 462.4 L392.4 459.9 L394.7 457.7 L396.6 455.9 L398.1 453.8 L400.4 451.0 L402.3 449.3 L404.0 446.9 L406.0 445.0 L408.1 442.6 L409.7 440.2 L411.7 438.1 L414.0 436.3 L416.2 435.1 L418.8 434.4 L421.6 432.9 L424.6 432.1 L427.6 431.5 L430.2 430.7 L432.9 430.3 L436.0 429.8 L438.8 429.3 L441.9 428.7 L444.7 428.5 L447.5 428.4 L450.5 427.9 L453.4 428.0 L456.1 427.6 L459.0 427.2 L462.3 427.4 L465.5 426.6 L468.1 427.0 L470.6 427.0 L473.7 426.3 L476.8 426.2 L479.3 426.3 L482.4 426.3 L485.3 425.9 L488.1 425.8 L491.0 425.8 L494.2 425.5 L496.9 425.1 L499.9 425.3 L503.1 425.2" fill="none" stroke="#0000ff" stroke-width="2.50" stroke-linejoin="round" stroke-linecap="round"/>
<path d="M66.2 749.8 L69.4 749.8 L72.3 749.6 L75.3 749.3 L78.3 749.3 L81.2 749.1 L83.7 749.2 L86.5 749.4 L89.8 748.8 L92.4 748.6 L95.5 748.7 L98.5 748.6 L101.1 748.3 L103.9 748.0 L107.2 748.0 L110.0 747.9 L112.9 747.3 L115.8 747.3 L118.6 746.7 L121.4 746.5 L124.5 746.1 L127.3 746.1 L130.1 745.5 L133.3 745.4 L136.0 744.9 L139.0 744.3 L141.6 743.1 L144.5 742.8 L147.2 742.2 L150.0 741.3 L152.9 739.8 L155.3 738.6 L157.6 736.6 L159.6 734.5 L161.7 732.7 L163.0 730.0 L165.3 728.0 L167.0 725.9 L168.9 723.4 L170.6 721.3 L172.7 719.2 L174.8 717.0 L176.6 714.5 L178.5 712.6 L180.4 710.7 L182.5 707.8 L184.3 706.2 L185.8 703.8 L188.0 701.5 L189.7 699.8 L191.4 697.4 L193.7 694.7 L195.9 692.8 L197.6 690.7 L199.4 688.4 L201.3 686.4 L203.5 684.0 L205.3 682.0 L207.2 679.9 L209.1 677.3 L211.0 675.3 L213.0 672.9 L214.9 670.9 L216.8 668.4 L218.5 666.3 L220.6 664.2 L222.4 662.2 L224.5 660.1 L226.1 657.4 L228.2 655.3 L230.1 653.4 L231.8 650.6 L234.2 648.8 L236.0 646.6 L237.6 644.7 L239.7 642.4 L241.6 640.0 L243.0 637.7 L245.4 635.6 L247.2 633.7 L249.1 631.1 L250.8 628.9 L252.8 626.8 L254.7 624.5 L256.8 622.3 L258.5 619.8 L260.3 617.8 L262.4 615.4 L263.8 613.5 L265.7 611.1 L267.2 608.6 L269.5 606.4 L271.1 603.9 L272.8 601.9 L274.5 599.3 L276.2 597.1 L278.0 594.3 L279.7 592.4 L281.5 589.6 L283.3 587.3 L285.4 585.4 L287.1 583.0 L288.9 581.1 L290.7 579.3 L292.6 576.4 L294.8 574.3 L296.6 572.3 L298.4 570.2 L300.3 567.8 L302.1 565.6 L304.2 563.7 L306.3 561.4 L308.0 558.9 L309.9 556.9 L311.9 554.7 L313.8 552.3 L315.5 550.4 L317.6 547.9 L319.4 546.2 L321.6 543.8 L323.2 541.6 L325.3 539.2 L327.4 537.1 L329.0 534.5 L330.9 532.5 L332.9 530.6 L334.8 527.9 L336.6 526.3 L338.7 523.6 L340.8 521.9 L342.4 519.4 L344.3 517.5 L346.1 515.2 L348.2 512.6 L349.9 511.0 L351.8 508.9 L354.1 506.4 L355.7 504.1 L357.9 501.9 L359.8 499.6 L361.6 497.8 L363.5 495.3 L365.6 493.2 L367.2 490.8 L369.1 488.6 L370.9 486.3 L373.0 484.7 L375.1 482.2 L376.9 480.2 L378.6 477.8 L380.5 475.4 L382.4 473.3 L384.5 471.1 L386.3 469.0 L388.3 466.7 L390.2 464.6 L392.0 462.1 L394.0 460.1 L396.0 458.4 L397.8 455.7 L399.8 453.4 L401.9 451.5 L403.7 449.6 L405.5 446.7 L407.1 444.8 L409.3 442.4 L410.7 439.9 L412.8 438.3 L415.3 436.3 L417.9 434.9 L420.4 433.6 L423.0 432.9 L426.0 431.9 L428.7 431.3 L431.8 430.5 L434.9 429.9 L437.4 430.0 L440.2 429.1 L443.0 428.9 L446.1 428.5 L448.9 428.1 L451.7 427.8 L454.8 427.8 L457.5 427.3 L460.7 427.2 L463.6 427.0 L466.6 427.1 L469.2 426.8 L472.3 426.6 L475.1 426.2 L478.0 425.9 L480.9 426.3 L483.6 426.2 L486.5 425.8 L489.8 425.8 L492.5 425.7 L495.5 425.6 L498.5 425.6 L501.0 425.2 L504.1 425.5" fill="none" stroke="#0000ff" stroke-width="2.50" stroke-linejoin="round" stroke-linecap="round"/>
<path d="M65.2 749.4 L67.8 749.4 L71.0 749.4 L73.7 749.5 L76.5 749.0 L79.5 749.4 L82.6 749.1 L85.3 749.4 L88.6 749.3 L91.7 749.3 L94.2 749.0 L97.3 748.7 L100.6 748.8 L103.3 748.8 L106.3 748.2 L109.1 748.3 L112.3 748.0 L115.1 748.2 L117.9 747.4 L120.6 747.3 L123.5 747.2 L126.9 746.8 L129.7 746.1 L132.9 746.1 L135.7 745.6 L138.4 745.2 L141.5 744.8 L144.6 744.5 L147.2 743.6 L150.1 743.7 L153.4 742.5 L155.7 741.4 L158.6 741.0 L161.7 740.3 L164.4 738.8 L166.8 738.0 L169.3 736.5 L171.7 733.9 L173.7 731.3 L175.5 729.3 L177.3 727.5 L179.3 724.8 L181.0 722.3 L182.6 720.0 L184.8 717.9 L186.1 715.6 L188.0 713.4 L189.8 711.1 L191.8 708.3 L193.3 706.1 L195.2 703.5 L196.8 701.5 L198.9 698.9 L200.7 696.5 L202.6 694.9 L204.1 692.1 L206.1 689.9 L207.8 688.0 L209.6 685.3 L211.5 682.8 L213.5 680.5 L215.1 678.0 L217.0 676.0 L218.6 673.4 L220.5 671.5 L222.3 668.7 L224.2 666.4 L226.2 664.1 L227.7 662.0 L229.8 659.5 L231.3 657.5 L233.4 654.7 L235.0 652.6 L236.9 650.6 L238.7 647.8 L240.7 645.6 L242.4 643.5 L244.3 640.9 L245.9 638.3 L247.7 635.6 L249.8 634.3 L251.0 631.5 L253.0 629.3 L254.8 626.6 L256.9 624.7 L258.3 622.1 L260.3 619.6 L262.1 617.0 L263.5 614.8 L265.2 612.2 L267.2 609.8 L268.5 607.1 L270.0 604.9 L272.0 602.6 L273.4 599.8 L275.3 597.6 L276.8 595.3 L278.2 592.6 L280.1 590.1 L281.8 587.7 L283.4 585.7 L285.5 582.8 L286.8 580.7 L288.7 578.3 L290.6 576.1 L292.6 573.7 L294.1 571.2 L296.1 569.6 L297.9 566.8 L299.6 564.2 L301.6 562.0 L303.3 559.9 L305.2 557.6 L307.2 554.9 L308.8 553.0 L310.6 550.2 L312.4 548.0 L314.2 546.0 L316.0 543.9 L317.8 541.2 L319.8 538.8 L321.5 536.8 L323.9 534.0 L325.1 531.9 L327.1 529.6 L328.6 527.4 L330.7 524.9 L332.4 522.5 L334.3 520.3 L336.3 517.6 L337.9 515.7 L339.6 513.1 L341.6 510.7 L343.2 508.5 L345.2 506.2 L347.3 504.0 L349.0 501.5 L350.8 499.4 L352.5 497.1 L354.3 494.5 L355.8 492.0 L357.8 490.1 L359.6 487.6 L361.6 484.7 L363.5 482.7 L365.2 480.6 L366.8 477.9 L369.0 475.7 L370.8 473.2 L372.4 471.3 L374.2 468.9 L376.1 466.6 L377.8 464.5 L379.5 461.7 L381.4 459.4 L383.1 457.5 L384.9 454.4 L386.4 452.5 L388.3 449.8 L390.6 447.8 L392.0 445.9 L394.2 443.3 L396.1 440.8 L398.1 439.4 L400.5 437.2 L403.4 436.0 L406.1 435.0 L408.8 433.7 L411.4 433.4 L414.5 432.7 L417.3 431.8 L420.1 431.1 L423.2 430.5 L426.2 430.3 L429.2 429.0 L432.0 429.3 L434.9 429.0 L438.0 428.1 L440.9 428.3 L444.1 427.9 L446.7 427.6 L449.4 427.4 L452.7 427.3 L455.8 427.1 L458.5 426.6 L461.3 426.6 L464.2 426.5 L467.6 426.4 L470.2 426.1 L473.1 426.3 L476.2 426.3 L478.9 426.2 L482.0 426.2 L484.8 426.0 L487.9 425.5 L491.0 425.4 L494.0 425.3 L496.7 425.5 L499.9 425.2 L502.6 425.4" fill="none" stroke="#808000" stroke-width="2.60" stroke-linejoin="round" stroke-linecap="round"/>
<path d="M66.4 749.6 L69.5 749.8 L72.4 749.3 L75.4 749.7 L78.3 749.8 L81.3 749.3 L84.1 749.4 L87.0 749.3 L90.3 749.0 L93.2 748.8 L96.1 748.4 L99.1 749.1 L101.8 748.6 L105.0 749.0 L107.7 748.5 L110.8 748.2 L113.7 747.9 L116.7 748.1 L119.7 747.5 L122.6 747.7 L125.4 747.0 L128.6 746.8 L131.6 746.1 L134.4 746.6 L137.4 745.7 L139.9 745.2 L143.1 745.1 L146.0 744.2 L148.6 744.1 L151.8 743.1 L154.7 742.8 L157.3 741.6 L160.2 740.6 L163.2 739.9 L166.0 738.6 L168.7 737.8 L170.9 736.1 L173.0 734.2 L175.0 731.8 L177.0 729.5 L178.8 727.3 L180.7 725.2 L182.6 722.6 L184.4 720.1 L186.1 717.7 L187.7 715.5 L189.6 713.0 L191.5 711.2 L193.4 708.2 L195.2 705.9 L196.7 703.7 L198.6 701.6 L200.3 699.1 L201.8 696.6 L203.9 694.3 L205.6 692.0 L207.9 690.0 L209.6 687.2 L211.2 685.1 L213.1 682.7 L215.0 680.5 L217.0 678.2 L218.7 675.5 L220.6 674.0 L222.3 671.2 L224.2 668.7 L226.1 666.3 L227.8 664.1 L229.5 661.8 L231.4 659.6 L233.0 657.2 L235.1 654.9 L236.7 652.1 L238.4 650.0 L240.6 647.6 L242.1 645.5 L243.9 643.2 L245.6 640.5 L247.4 638.4 L249.3 636.3 L251.0 634.0 L253.1 631.2 L254.6 629.2 L256.3 626.8 L258.4 624.2 L260.1 622.4 L261.4 619.3 L263.4 617.1 L265.3 614.9 L266.7 612.4 L268.5 609.9 L270.1 607.7 L271.5 605.3 L273.3 602.7 L275.2 600.3 L276.9 597.6 L278.4 594.9 L280.0 593.2 L281.8 590.1 L283.4 588.4 L285.2 585.5 L286.8 583.2 L288.7 580.7 L290.6 578.6 L292.4 576.0 L293.9 574.2 L296.1 571.5 L297.8 569.2 L299.6 566.7 L301.2 564.5 L303.3 562.2 L304.9 560.3 L306.5 557.7 L308.8 554.8 L310.6 553.2 L312.4 550.0 L314.2 548.5 L316.0 545.4 L318.0 543.5 L319.7 541.4 L321.7 538.9 L323.6 536.3 L325.2 534.5 L327.0 531.5 L329.0 529.2 L330.4 527.5 L332.3 524.7 L334.2 522.6 L335.7 520.4 L337.9 517.8 L339.8 515.6 L341.2 513.2 L343.1 510.9 L345.1 508.8 L347.0 506.4 L348.4 503.9 L350.5 501.7 L352.2 499.1 L353.8 496.7 L355.8 494.3 L357.6 492.4 L359.5 490.2 L361.3 487.6 L363.1 484.8 L364.9 482.8 L366.7 480.6 L368.6 478.3 L370.5 475.9 L372.3 473.8 L373.8 471.4 L375.7 468.6 L377.5 466.6 L379.6 464.0 L381.2 461.9 L382.8 459.7 L384.5 457.5 L386.3 454.9 L388.3 452.3 L389.9 450.0 L391.9 447.9 L394.0 445.2 L395.7 443.2 L397.7 441.1 L399.5 439.1 L402.3 437.2 L404.9 436.1 L407.5 435.3 L410.7 434.1 L413.3 432.8 L416.0 432.4 L418.9 431.7 L422.0 431.0 L424.6 430.6 L427.7 429.8 L430.5 430.0 L433.6 429.4 L436.4 428.8 L439.4 428.6 L442.5 428.2 L445.3 427.7 L448.3 427.0 L451.3 426.7 L454.2 427.6 L457.1 426.7 L460.0 426.7 L463.1 426.8 L466.1 426.4 L469.2 426.6 L472.1 426.0 L474.6 426.3 L477.8 425.6 L480.8 426.1 L483.8 425.9 L486.7 425.8 L489.3 425.7 L492.5 425.6 L495.2 425.6 L498.3 425.5 L501.2 425.1 L504.2 425.4" fill="none" stroke="#808000" stroke-width="2.60" stroke-linejoin="round" stroke-linecap="round"/>
<path d="M138.4 749.3 L141.3 749.3 L143.3 749.1 L145.8 749.2 L148.2 748.9 L150.4 748.9 L152.9 748.8 L155.4 748.6 L157.6 748.3 L159.9 747.8 L162.3 747.5 L164.6 747.2 L167.0 746.9 L169.4 746.6 L171.8 746.0 L174.2 745.5 L176.4 745.3 L178.6 744.2 L181.1 744.0 L183.3 743.5 L185.6 742.5 L187.7 741.7 L190.0 741.0 L192.2 740.4 L194.4 739.3 L196.3 737.9 L198.5 737.2 L200.7 736.5 L203.1 735.4 L204.9 734.2 L206.8 732.7 L208.5 730.8 L209.7 729.4 L211.7 727.5 L212.9 725.6 L214.3 723.9 L215.1 721.6 L216.6 719.6 L217.7 717.6 L218.5 715.3 L219.8 713.1 L220.6 710.9 L221.8 709.1 L222.5 706.9 L223.6 704.5 L224.7 702.8 L225.7 700.5 L227.0 698.0 L228.2 696.4 L229.1 694.1 L230.3 691.7 L231.6 690.0 L232.5 687.8 L233.5 685.6 L234.4 683.8 L235.8 681.0 L236.8 679.1 L237.9 677.2 L239.2 675.3 L240.3 673.0 L241.1 670.8 L242.5 668.7 L243.5 666.8 L244.8 664.9 L245.8 662.3 L247.0 660.1 L247.9 658.3 L249.0 656.2 L250.1 654.0 L251.3 652.2 L252.4 650.2 L253.8 647.8 L254.6 645.8 L255.8 643.9 L256.8 641.5 L257.8 639.2 L259.0 637.4 L260.0 635.1 L261.3 633.2 L262.2 630.9 L263.2 628.8 L264.4 626.8 L265.5 624.5 L266.2 622.3 L267.0 620.0 L268.2 618.5 L269.2 616.2 L270.4 613.4 L271.2 611.3 L272.0 609.5 L273.2 607.1 L274.2 605.0 L274.9 603.0 L275.9 600.7 L276.9 598.4 L278.1 596.2 L278.6 594.1 L279.5 592.0 L280.6 590.1 L281.7 587.8 L282.6 585.4 L283.7 583.5 L284.9 581.2 L286.1 578.8 L286.9 577.0 L288.0 575.1 L289.1 572.7 L290.0 570.9 L291.3 568.6 L292.6 566.5 L293.7 564.2 L295.2 562.8 L296.1 560.3 L297.2 558.4 L298.4 555.9 L299.2 553.6 L300.3 552.1 L301.4 549.6 L302.6 548.0 L304.0 545.5 L304.8 543.8 L305.8 541.2 L307.0 538.8 L308.3 537.3 L309.3 535.0 L310.5 532.9 L311.3 531.0 L312.4 528.5 L313.6 526.3 L314.8 524.2 L316.1 522.0 L316.8 519.9 L318.2 517.9 L319.2 515.9 L320.4 513.9 L321.3 511.6 L322.3 509.8 L323.8 507.8 L324.8 505.5 L325.6 503.6 L327.1 501.2 L327.9 499.3 L329.2 497.3 L330.3 494.9 L331.2 492.6 L332.7 490.8 L333.5 488.7 L335.0 487.0 L335.9 484.5 L337.0 482.8 L338.1 479.8 L339.5 478.2 L340.2 476.0 L341.4 473.9 L342.5 471.8 L343.9 469.8 L345.0 468.0 L345.9 465.5 L347.0 463.6 L347.8 461.2 L349.4 459.1 L350.2 456.5 L351.5 455.0 L352.6 453.0 L354.1 450.6 L355.3 448.8 L356.8 446.8 L358.3 445.5 L359.8 443.0 L361.6 441.6 L363.7 439.8 L365.8 438.9 L368.1 438.2 L370.3 436.9 L372.1 435.5 L374.2 435.1 L376.7 434.2 L379.2 433.4 L381.2 432.6 L383.2 431.6 L386.0 431.7 L388.2 430.3 L390.2 429.9 L392.6 429.0 L395.1 428.6 L397.3 427.9 L399.7 427.9 L402.2 427.4 L404.4 426.9 L407.0 426.4 L409.1 426.6 L411.7 426.4 L413.8 426.2 L416.1 425.8 L418.3 425.8 L420.8 425.6 L423.4 425.4 L425.9 425.5 L427.6 425.0 L430.5 425.0" fill="none" stroke="#ff0000" stroke-width="1.80" stroke-linejoin="round" stroke-linecap="round"/>
<path d="M139.8 749.5 L141.9 749.7 L144.5 749.6 L147.0 749.0 L149.3 748.9 L151.6 748.7 L154.1 748.8 L156.3 748.4 L158.7 748.4 L161.0 747.5 L163.5 748.0 L165.6 747.3 L168.2 747.1 L170.4 746.6 L172.6 746.1 L175.2 745.8 L177.7 745.4 L179.9 744.6 L182.0 744.0 L184.5 743.5 L186.6 742.5 L189.0 741.6 L191.3 741.2 L193.1 740.1 L195.7 738.9 L197.8 738.1 L200.0 737.2 L202.0 736.0 L204.2 734.9 L206.4 734.0 L208.7 732.9 L210.6 731.1 L211.9 729.2 L213.6 727.6 L214.8 725.7 L215.9 723.5 L217.5 721.7 L218.8 719.7 L219.9 717.4 L221.1 715.2 L222.2 713.3 L223.1 711.1 L224.1 709.2 L225.3 706.5 L226.4 704.5 L227.5 702.4 L228.9 700.1 L230.1 698.4 L230.9 696.3 L232.2 694.0 L233.4 692.3 L234.5 690.1 L235.6 688.0 L236.5 685.8 L237.8 683.8 L239.1 681.2 L240.0 679.6 L240.9 677.5 L242.2 674.8 L243.4 673.2 L244.4 671.0 L245.4 669.1 L246.8 666.7 L247.5 664.7 L248.9 662.7 L249.9 660.3 L250.8 658.5 L252.3 656.3 L253.3 654.3 L254.2 652.0 L255.6 650.3 L256.5 648.1 L257.4 645.8 L258.7 643.9 L260.0 641.9 L261.1 639.9 L262.2 637.1 L263.2 635.5 L264.3 633.3 L265.2 631.0 L266.5 628.7 L267.3 627.0 L268.3 624.3 L269.4 622.5 L270.1 620.5 L271.1 617.7 L272.5 615.8 L273.3 613.5 L274.1 611.6 L275.2 609.7 L276.0 607.7 L277.1 604.6 L277.9 602.7 L278.9 600.8 L279.6 598.8 L280.9 596.4 L281.6 593.9 L282.4 592.0 L283.6 589.7 L284.5 587.5 L285.6 585.3 L286.5 583.4 L287.8 581.3 L289.4 579.1 L289.7 576.9 L291.1 574.6 L292.1 572.7 L293.4 571.0 L294.2 568.6 L295.4 566.2 L296.8 564.7 L297.8 562.5 L299.2 560.7 L299.9 558.2 L301.2 555.9 L302.7 553.6 L303.3 552.1 L304.3 550.3 L305.6 547.4 L306.7 545.4 L307.9 543.6 L308.9 541.1 L309.9 539.2 L311.2 537.0 L312.6 535.1 L313.5 533.2 L314.0 530.8 L315.5 528.9 L316.5 526.5 L317.9 524.6 L318.9 521.9 L320.3 520.0 L321.2 518.4 L322.3 516.0 L323.3 514.1 L324.4 512.0 L325.6 510.1 L326.8 507.9 L327.8 505.8 L328.8 503.5 L330.2 501.2 L331.1 499.1 L332.2 497.1 L333.2 494.8 L334.3 492.8 L335.4 490.8 L336.2 488.8 L337.9 486.6 L338.9 484.1 L339.9 482.5 L341.2 480.4 L342.2 478.5 L343.3 476.3 L343.9 473.9 L345.3 471.8 L346.5 470.3 L347.7 467.9 L348.7 466.0 L349.7 463.9 L350.3 461.1 L351.1 459.2 L352.6 457.2 L353.7 455.1 L355.0 453.1 L356.0 450.9 L357.4 449.0 L358.5 446.7 L360.2 445.1 L361.6 443.1 L363.5 441.8 L365.4 440.4 L367.4 439.4 L369.6 438.4 L371.6 437.2 L373.9 436.2 L376.0 435.2 L378.0 434.2 L380.2 433.3 L382.7 432.4 L384.7 431.9 L387.1 431.1 L389.3 430.6 L391.4 429.6 L393.7 429.5 L396.1 428.6 L398.5 428.1 L400.9 427.8 L402.9 427.4 L405.4 427.2 L407.8 426.7 L410.4 426.3 L412.2 426.1 L415.0 426.3 L417.2 425.9 L419.7 425.4 L422.0 425.5 L424.5 425.0 L427.0 425.6 L429.2 424.8 L431.6 425.1" fill="none" stroke="#ff0000" stroke-width="1.80" stroke-linejoin="round" stroke-linecap="round"/>
<path d="M223.8 748.0 L225.9 748.1 L228.4 747.9 L230.0 747.8 L232.2 747.9 L234.1 747.1 L236.3 747.1 L238.4 746.7 L240.2 746.8 L242.3 746.9 L244.4 746.5 L246.4 746.4 L248.4 745.7 L250.4 745.9 L252.6 745.4 L254.7 745.7 L256.5 745.2 L258.3 744.8 L260.5 744.1 L262.4 743.6 L264.4 742.9 L266.5 741.9 L267.9 740.9 L269.7 739.8 L271.2 738.3 L272.6 736.8 L273.6 735.3 L274.9 733.4 L275.5 731.8 L276.0 729.3 L276.9 727.9 L276.8 725.6 L277.5 723.6 L277.8 721.4 L278.0 719.6 L278.1 717.6 L278.3 715.6 L278.5 713.4 L278.8 711.5 L278.5 709.9 L278.9 707.6 L279.1 705.3 L279.2 703.6 L279.1 701.3 L279.4 699.5 L279.5 697.4 L279.8 695.2 L280.0 692.8 L279.9 691.1 L279.7 689.3 L280.1 687.1 L280.0 685.2 L280.4 683.3 L280.6 680.9 L280.5 679.3 L280.9 677.3 L280.9 675.2 L280.8 673.2 L280.7 671.1 L280.9 669.3 L280.7 666.9 L281.2 664.8 L281.1 662.9 L281.3 660.5 L281.2 658.3 L280.9 656.5 L281.4 654.7 L281.4 652.7 L281.6 650.2 L281.2 648.1 L281.2 646.4 L281.4 644.4 L281.3 642.4 L281.3 640.5 L281.3 638.6 L281.9 636.4 L281.5 634.4 L281.4 632.0 L281.6 629.9 L281.7 628.2 L281.9 626.3 L281.9 624.3 L282.0 622.2 L281.9 620.2 L282.0 618.2 L282.0 615.6 L282.0 613.8 L282.7 612.0 L282.5 610.0 L282.9 607.5 L282.8 606.1 L283.0 603.7 L283.1 601.7 L283.1 599.8 L283.4 597.9 L283.6 595.4 L283.8 593.9 L283.8 591.6 L284.0 589.4 L283.9 587.5 L283.9 585.0 L283.6 583.3 L283.9 581.5 L284.2 579.3 L284.0 577.3 L284.2 575.3 L284.0 573.3 L284.0 571.5 L284.4 569.2 L284.2 567.2 L284.4 565.3 L284.2 563.6 L284.1 561.0 L283.8 559.2 L284.2 556.7 L284.0 555.3 L283.9 553.1 L284.4 551.2 L284.4 548.9 L284.4 546.6 L284.3 545.0 L284.3 543.0 L284.4 540.6 L284.4 538.4 L284.4 536.8 L284.5 534.6 L284.0 533.2 L284.6 530.5 L284.3 528.4 L284.6 526.5 L284.7 524.1 L284.4 522.3 L284.6 520.8 L284.7 518.4 L284.5 516.2 L284.5 514.0 L284.6 512.4 L284.3 510.4 L284.6 508.3 L284.8 506.1 L284.7 504.2 L284.6 502.2 L284.9 499.9 L285.3 498.2 L285.3 495.5 L285.2 493.7 L285.2 491.9 L285.4 489.9 L285.5 487.6 L285.5 485.9 L285.7 484.1 L285.9 481.9 L286.0 479.8 L285.6 477.9 L286.3 475.8 L286.2 473.4 L286.5 471.6 L286.5 469.9 L286.7 467.3 L287.0 465.5 L286.4 463.4 L287.3 461.3 L287.2 459.2 L287.1 457.4 L287.2 455.4 L287.9 453.4 L287.9 451.0 L288.5 449.2 L288.7 447.4 L289.1 445.5 L289.7 443.5 L290.3 441.6 L291.2 439.7 L292.1 437.8 L293.1 435.8 L294.5 434.6 L296.1 433.0 L297.6 431.5 L299.5 430.7 L301.3 430.7 L303.2 429.3 L305.0 428.4 L307.2 428.3 L309.3 428.3 L311.3 427.6 L313.5 427.5 L315.2 427.1 L317.2 426.9 L319.2 427.0 L321.3 426.7 L323.3 426.3 L325.1 426.3 L327.5 426.2 L329.6 425.7 L331.7 425.7 L333.4 425.5 L335.5 425.2 L337.9 425.5 L339.6 425.1 L341.7 424.9" fill="none" stroke="#000000" stroke-width="2.10" stroke-linejoin="round" stroke-linecap="round"/>
<path d="M225.8 748.4 L227.7 747.2 L229.6 748.0 L231.8 747.7 L233.9 747.8 L235.8 747.4 L237.9 747.6 L239.8 747.0 L242.3 746.7 L243.6 746.8 L246.1 746.6 L247.9 746.2 L250.2 746.1 L252.1 746.0 L254.2 745.8 L256.3 745.2 L258.2 744.9 L260.3 744.2 L261.9 744.5 L264.3 743.4 L266.0 743.0 L267.9 742.0 L269.9 741.4 L271.6 740.1 L273.3 738.5 L274.0 737.3 L275.2 735.2 L276.5 733.8 L277.0 731.3 L277.8 729.7 L278.6 727.9 L278.8 725.8 L278.9 723.6 L279.4 721.5 L279.7 719.6 L279.8 717.9 L280.0 715.8 L280.2 713.5 L280.1 711.2 L280.6 709.6 L280.5 707.1 L280.9 705.3 L281.0 703.2 L280.9 701.5 L281.3 699.4 L281.3 697.4 L281.4 695.3 L281.6 693.1 L281.5 691.3 L281.6 689.5 L281.8 687.1 L281.9 685.3 L282.2 683.1 L281.7 681.3 L282.1 679.2 L281.9 677.2 L282.3 675.0 L282.5 673.3 L282.5 670.8 L282.7 668.8 L282.7 666.7 L282.3 664.9 L282.6 662.6 L283.0 660.6 L283.1 658.8 L282.9 656.9 L282.7 654.7 L283.3 652.0 L282.7 650.3 L283.1 648.3 L283.0 646.2 L283.1 644.4 L282.9 642.8 L283.1 640.3 L283.3 638.2 L283.1 636.5 L283.0 634.3 L283.3 632.3 L283.3 630.1 L283.3 628.2 L283.3 626.2 L283.5 623.7 L283.5 621.7 L283.4 620.3 L283.7 618.2 L283.8 615.9 L284.0 613.7 L283.8 611.9 L284.1 609.6 L284.4 607.8 L284.7 606.2 L284.7 603.8 L284.8 602.0 L285.1 599.7 L285.2 597.8 L285.5 596.0 L285.4 593.3 L285.3 591.5 L285.6 589.5 L285.2 587.6 L285.6 585.9 L285.5 583.6 L285.6 581.1 L285.7 579.4 L285.7 577.2 L285.5 575.1 L285.7 573.8 L285.6 571.0 L285.8 569.3 L285.9 567.1 L285.7 565.4 L285.9 563.2 L286.0 561.1 L285.8 559.1 L286.0 557.3 L285.7 554.8 L285.8 552.8 L286.1 550.7 L285.7 549.2 L285.9 546.8 L285.9 544.6 L286.2 542.7 L286.2 541.3 L286.0 538.7 L286.1 536.9 L285.7 534.8 L286.2 532.6 L286.2 530.4 L286.3 528.5 L285.8 526.4 L286.2 524.0 L286.1 523.0 L285.8 520.6 L286.1 518.4 L286.2 516.3 L286.4 514.1 L286.3 512.5 L286.3 510.2 L286.5 508.3 L286.4 505.9 L286.4 504.2 L286.4 502.6 L286.7 500.0 L286.8 498.2 L287.1 496.0 L286.8 494.2 L287.3 492.2 L287.2 489.9 L287.4 487.8 L287.2 485.9 L287.3 483.8 L287.5 481.7 L287.7 479.9 L287.7 477.8 L287.9 475.5 L288.0 473.6 L288.2 472.3 L288.2 469.8 L288.2 467.6 L288.5 466.1 L288.6 463.4 L289.0 460.9 L288.9 459.0 L289.1 457.1 L289.2 455.4 L289.7 453.6 L289.9 450.8 L290.2 449.5 L290.2 447.0 L290.5 445.4 L291.3 443.5 L292.0 441.5 L293.0 439.4 L293.4 437.7 L294.7 435.8 L295.8 434.6 L297.6 433.4 L299.4 432.2 L301.4 431.6 L303.0 430.5 L304.9 429.7 L306.9 429.3 L309.1 428.4 L311.3 427.7 L312.7 427.2 L314.9 427.7 L316.9 427.2 L319.2 427.1 L321.1 426.6 L323.3 426.6 L324.9 426.7 L327.1 426.2 L329.1 425.7 L331.0 425.7 L333.2 425.9 L335.0 425.2 L337.6 424.8 L339.3 424.7 L341.2 424.8 L343.3 425.2" fill="none" stroke="#000000" stroke-width="2.10" stroke-linejoin="round" stroke-linecap="round"/>
<rect x="65.00" y="410.00" width="438.50" height="356.00" fill="none" stroke="#000" stroke-width="1.6"/>
<line x1="65.00" y1="766.00" x2="65.00" y2="773.20" stroke="#000" stroke-width="1.60" />
<line x1="65.00" y1="410.00" x2="65.00" y2="417.00" stroke="#000" stroke-width="1.60" />
<text x="65.00" y="792.50" font-size="17.60" font-weight="bold" text-anchor="middle" >-750</text>
<line x1="101.50" y1="766.00" x2="101.50" y2="770.00" stroke="#000" stroke-width="1.60" />
<line x1="138.00" y1="766.00" x2="138.00" y2="773.20" stroke="#000" stroke-width="1.60" />
<line x1="138.00" y1="410.00" x2="138.00" y2="417.00" stroke="#000" stroke-width="1.60" />
<text x="138.00" y="792.50" font-size="17.60" font-weight="bold" text-anchor="middle" >-500</text>
<line x1="174.65" y1="766.00" x2="174.65" y2="770.00" stroke="#000" stroke-width="1.60" />
<line x1="211.30" y1="766.00" x2="211.30" y2="773.20" stroke="#000" stroke-width="1.60" />
<line x1="211.30" y1="410.00" x2="211.30" y2="417.00" stroke="#000" stroke-width="1.60" />
<text x="211.30" y="792.50" font-size="17.60" font-weight="bold" text-anchor="middle" >-250</text>
<line x1="247.65" y1="766.00" x2="247.65" y2="770.00" stroke="#000" stroke-width="1.60" />
<line x1="284.00" y1="766.00" x2="284.00" y2="773.20" stroke="#000" stroke-width="1.60" />
<line x1="284.00" y1="410.00" x2="284.00" y2="417.00" stroke="#000" stroke-width="1.60" />
<text x="284.00" y="792.50" font-size="17.60" font-weight="bold" text-anchor="middle" >0</text>
<line x1="320.75" y1="766.00" x2="320.75" y2="770.00" stroke="#000" stroke-width="1.60" />
<line x1="357.50" y1="766.00" x2="357.50" y2="773.20" stroke="#000" stroke-width="1.60" />
<line x1="357.50" y1="410.00" x2="357.50" y2="417.00" stroke="#000" stroke-width="1.60" />
<text x="357.50" y="792.50" font-size="17.60" font-weight="bold" text-anchor="middle" >250</text>
<line x1="394.15" y1="766.00" x2="394.15" y2="770.00" stroke="#000" stroke-width="1.60" />
<line x1="430.80" y1="766.00" x2="430.80" y2="773.20" stroke="#000" stroke-width="1.60" />
<line x1="430.80" y1="410.00" x2="430.80" y2="417.00" stroke="#000" stroke-width="1.60" />
<text x="430.80" y="792.50" font-size="17.60" font-weight="bold" text-anchor="middle" >500</text>
<line x1="467.15" y1="766.00" x2="467.15" y2="770.00" stroke="#000" stroke-width="1.60" />
<line x1="503.50" y1="766.00" x2="503.50" y2="773.20" stroke="#000" stroke-width="1.60" />
<line x1="503.50" y1="410.00" x2="503.50" y2="417.00" stroke="#000" stroke-width="1.60" />
<text x="503.50" y="792.50" font-size="17.60" font-weight="bold" text-anchor="middle" >750</text>
<line x1="65.00" y1="749.80" x2="58.00" y2="749.80" stroke="#000" stroke-width="1.60" />
<line x1="503.50" y1="749.80" x2="496.50" y2="749.80" stroke="#000" stroke-width="1.60" />
<text x="52.80" y="755.80" font-size="16.70" font-weight="bold" text-anchor="end" >-1.0</text>
<line x1="65.00" y1="709.40" x2="61.00" y2="709.40" stroke="#000" stroke-width="1.60" />
<line x1="65.00" y1="669.00" x2="58.00" y2="669.00" stroke="#000" stroke-width="1.60" />
<line x1="503.50" y1="669.00" x2="496.50" y2="669.00" stroke="#000" stroke-width="1.60" />
<text x="52.80" y="675.00" font-size="16.70" font-weight="bold" text-anchor="end" >-0.5</text>
<line x1="65.00" y1="628.40" x2="61.00" y2="628.40" stroke="#000" stroke-width="1.60" />
<line x1="65.00" y1="587.80" x2="58.00" y2="587.80" stroke="#000" stroke-width="1.60" />
<line x1="503.50" y1="587.80" x2="496.50" y2="587.80" stroke="#000" stroke-width="1.60" />
<text x="52.80" y="593.80" font-size="16.70" font-weight="bold" text-anchor="end" >0.0</text>
<line x1="65.00" y1="547.15" x2="61.00" y2="547.15" stroke="#000" stroke-width="1.60" />
<line x1="65.00" y1="506.50" x2="58.00" y2="506.50" stroke="#000" stroke-width="1.60" />
<line x1="503.50" y1="506.50" x2="496.50" y2="506.50" stroke="#000" stroke-width="1.60" />
<text x="52.80" y="512.50" font-size="16.70" font-weight="bold" text-anchor="end" >0.5</text>
<line x1="65.00" y1="465.75" x2="61.00" y2="465.75" stroke="#000" stroke-width="1.60" />
<line x1="65.00" y1="425.00" x2="58.00" y2="425.00" stroke="#000" stroke-width="1.60" />
<line x1="503.50" y1="425.00" x2="496.50" y2="425.00" stroke="#000" stroke-width="1.60" />
<text x="52.80" y="431.00" font-size="16.70" font-weight="bold" text-anchor="end" >1.0</text>
<text x="284.30" y="812.70" font-size="17.80" font-weight="bold" text-anchor="middle" >Field (Oe)</text>
<text transform="translate(16.2,589.5) rotate(-90)" font-size="17.6" font-weight="bold" text-anchor="middle">M/M<tspan font-size="14.3" dy="7.3">S</tspan></text>
<text x="1.50" y="813.50" font-size="18.50" font-weight="normal" text-anchor="start" >(b)</text>
<rect x="79.5" y="416.3" width="90.7" height="171.9" fill="#fff" stroke="#666" stroke-width="0.9"/>
<line x1="83.00" y1="431.80" x2="120.00" y2="431.80" stroke="#8000ff" stroke-width="2.00" />
<text x="125.00" y="438.40" font-size="18.60" font-weight="bold" text-anchor="start" >20:1</text>
<line x1="83.00" y1="456.10" x2="120.00" y2="456.10" stroke="#ff8000" stroke-width="2.00" />
<text x="125.00" y="462.70" font-size="18.60" font-weight="bold" text-anchor="start" >10:1</text>
<line x1="83.00" y1="480.40" x2="120.00" y2="480.40" stroke="#008080" stroke-width="2.00" />
<text x="125.00" y="487.00" font-size="18.60" font-weight="bold" text-anchor="start" >5:1</text>
<line x1="83.00" y1="504.70" x2="120.00" y2="504.70" stroke="#0000ff" stroke-width="2.00" />
<text x="125.00" y="511.30" font-size="18.60" font-weight="bold" text-anchor="start" >3:1</text>
<line x1="83.00" y1="529.00" x2="120.00" y2="529.00" stroke="#808000" stroke-width="2.00" />
<text x="125.00" y="535.60" font-size="18.60" font-weight="bold" text-anchor="start" >1.5:1</text>
<line x1="83.00" y1="553.30" x2="120.00" y2="553.30" stroke="#ff0000" stroke-width="2.00" />
<text x="125.00" y="559.90" font-size="18.60" font-weight="bold" text-anchor="start" >1:2</text>
<line x1="83.00" y1="577.60" x2="120.00" y2="577.60" stroke="#000000" stroke-width="2.00" />
<text x="125.00" y="584.20" font-size="18.60" font-weight="bold" text-anchor="start" >1:20</text>
<line x1="61.00" y1="850.00" x2="506.50" y2="850.00" stroke="#bdbdd2" stroke-width="0.90" stroke-dasharray="1 1.4"/>
<line x1="61.00" y1="932.50" x2="506.50" y2="932.50" stroke="#bdbdd2" stroke-width="0.90" stroke-dasharray="1 1.4"/>
<line x1="61.00" y1="1015.40" x2="506.50" y2="1015.40" stroke="#bdbdd2" stroke-width="0.90" stroke-dasharray="1 1.4"/>
<line x1="61.00" y1="1097.50" x2="506.50" y2="1097.50" stroke="#bdbdd2" stroke-width="0.90" stroke-dasharray="1 1.4"/>
<line x1="61.00" y1="1179.80" x2="506.50" y2="1179.80" stroke="#bdbdd2" stroke-width="0.90" stroke-dasharray="1 1.4"/>
<line x1="135.50" y1="834.50" x2="135.50" y2="1196.00" stroke="#bdbdd2" stroke-width="0.90" stroke-dasharray="1 1.4"/>
<line x1="209.70" y1="834.50" x2="209.70" y2="1196.00" stroke="#bdbdd2" stroke-width="0.90" stroke-dasharray="1 1.4"/>
<line x1="284.00" y1="834.50" x2="284.00" y2="1196.00" stroke="#bdbdd2" stroke-width="0.90" stroke-dasharray="1 1.4"/>
<line x1="358.00" y1="834.50" x2="358.00" y2="1196.00" stroke="#bdbdd2" stroke-width="0.90" stroke-dasharray="1 1.4"/>
<line x1="432.50" y1="834.50" x2="432.50" y2="1196.00" stroke="#bdbdd2" stroke-width="0.90" stroke-dasharray="1 1.4"/>
<path d="M59.1 1178.7 L62.5 1177.7 L64.7 1177.0 L67.2 1176.0 L69.8 1176.1 L72.9 1175.9 L75.7 1174.8 L78.2 1174.1 L81.1 1173.4 L83.9 1171.9 L86.3 1172.0 L89.1 1169.9 L91.9 1169.2 L94.2 1168.7 L96.5 1166.6 L99.2 1165.4 L101.6 1163.9 L104.4 1162.7 L106.2 1160.4 L108.3 1159.4 L111.1 1158.6 L113.5 1156.7 L115.8 1155.2 L118.4 1153.9 L120.7 1152.5 L123.2 1150.9 L125.1 1149.5 L127.4 1147.2 L129.8 1146.3 L132.0 1144.2 L134.6 1143.1 L136.7 1141.2 L138.9 1139.3 L141.5 1138.0 L143.6 1136.1 L145.9 1135.1 L148.2 1133.1 L150.2 1131.8 L152.5 1129.6 L154.8 1128.8 L156.9 1126.6 L159.2 1125.4 L161.6 1123.5 L163.6 1121.0 L165.4 1119.6 L168.2 1117.5 L169.5 1115.8 L171.9 1114.3 L174.1 1112.2 L176.3 1110.5 L177.9 1108.0 L180.2 1106.6 L182.3 1104.8 L184.7 1103.2 L186.6 1100.8 L188.7 1099.4 L190.9 1097.5 L193.3 1095.1 L195.2 1093.4 L197.3 1092.0 L199.0 1089.7 L201.5 1087.9 L203.1 1086.6 L205.6 1084.6 L207.5 1082.5 L209.3 1080.7 L211.3 1078.6 L213.5 1076.6 L215.5 1074.6 L217.4 1072.9 L219.5 1071.3 L221.5 1068.8 L223.5 1067.0 L225.7 1065.1 L227.9 1062.9 L230.2 1061.5 L232.2 1059.8 L234.0 1057.4 L236.6 1056.1 L238.6 1053.8 L240.4 1052.4 L242.7 1050.5 L244.5 1048.2 L246.5 1045.8 L248.6 1044.5 L251.2 1042.3 L253.0 1040.4 L255.1 1038.9 L257.2 1037.5 L259.2 1035.2 L261.4 1033.2 L263.6 1030.9 L265.9 1029.4 L267.4 1027.3 L270.0 1026.0 L271.9 1023.8 L273.5 1022.0 L276.2 1020.2 L278.4 1018.3 L280.4 1016.7 L282.3 1014.7 L284.4 1012.6 L286.0 1010.9 L288.6 1009.1 L290.7 1007.5 L292.5 1005.2 L294.9 1003.7 L296.8 1001.3 L299.5 999.5 L300.9 997.2 L303.0 996.1 L304.8 993.6 L307.3 991.8 L309.5 990.4 L311.6 988.2 L313.5 986.2 L315.9 984.9 L317.9 982.6 L320.2 981.1 L322.0 978.8 L323.7 977.3 L326.2 975.5 L328.1 973.4 L330.6 972.0 L332.4 969.5 L334.6 967.7 L336.7 965.9 L338.5 964.3 L340.8 962.0 L343.1 960.0 L344.8 958.3 L346.9 956.6 L349.0 954.1 L350.9 951.9 L353.0 950.3 L355.2 948.6 L357.1 946.4 L359.3 944.7 L361.4 942.2 L363.3 940.9 L365.4 939.1 L368.3 937.4 L370.3 935.5 L372.2 933.9 L374.6 931.5 L376.8 930.2 L378.9 927.7 L380.8 926.2 L382.7 924.8 L384.9 922.9 L387.3 920.3 L389.8 919.2 L392.0 917.0 L393.7 915.0 L395.8 913.4 L398.2 911.5 L400.5 910.0 L402.1 907.4 L404.6 905.9 L406.7 904.3 L408.9 902.1 L411.3 901.4 L413.6 900.0 L416.0 897.7 L418.0 896.3 L420.6 894.5 L423.1 893.1 L425.5 891.2 L427.8 890.0 L430.0 887.8 L432.3 887.0 L435.0 885.0 L436.9 884.0 L439.3 881.2 L441.8 880.1 L444.0 878.2 L446.1 877.1 L448.7 875.9 L451.2 874.0 L453.7 872.5 L456.1 870.9 L458.8 870.0 L461.1 868.8 L463.5 867.3 L465.7 865.6 L468.5 864.0 L471.1 863.0 L473.9 861.5 L475.9 860.4 L478.6 860.1 L481.5 858.8 L483.7 858.0 L486.6 857.0 L489.3 856.6 L492.0 855.9 L494.5 854.6 L497.5 854.0 L499.9 853.3 L503.2 853.4 L505.6 852.9" fill="none" stroke="#ff0000" stroke-width="1.80" stroke-linejoin="round" stroke-linecap="round"/>
<path d="M60.3 1178.1 L63.0 1177.7 L65.5 1177.6 L68.7 1176.7 L71.7 1176.4 L74.2 1175.7 L76.5 1174.3 L79.4 1174.3 L82.3 1172.9 L84.6 1172.8 L87.4 1171.4 L90.0 1170.0 L92.6 1169.1 L95.5 1168.0 L97.4 1166.8 L100.4 1165.8 L102.7 1164.2 L105.0 1163.1 L107.1 1161.3 L109.9 1159.5 L112.2 1157.7 L114.1 1156.2 L116.9 1155.3 L119.3 1154.0 L121.8 1152.8 L124.3 1150.7 L126.6 1149.3 L129.4 1147.5 L131.7 1146.0 L133.7 1143.8 L136.3 1143.0 L138.8 1141.0 L140.8 1139.6 L142.8 1138.1 L145.4 1136.5 L148.0 1134.4 L149.8 1133.6 L152.3 1131.8 L154.9 1130.1 L157.2 1128.1 L159.5 1126.2 L161.6 1124.5 L163.7 1123.1 L165.8 1121.4 L168.3 1119.3 L170.3 1118.2 L172.2 1115.8 L174.2 1114.1 L176.8 1112.3 L178.9 1109.8 L180.7 1108.6 L182.6 1106.6 L185.2 1104.3 L187.5 1103.0 L189.7 1101.3 L191.8 1099.5 L193.5 1097.7 L196.0 1095.1 L198.1 1093.7 L200.1 1091.7 L203.0 1090.1 L204.6 1088.3 L206.8 1086.7 L208.7 1084.7 L211.0 1082.3 L213.2 1080.9 L214.9 1079.2 L217.0 1076.8 L219.0 1074.3 L220.9 1072.6 L223.1 1070.8 L225.2 1068.5 L227.2 1067.0 L229.3 1064.8 L231.0 1063.5 L233.6 1061.6 L235.6 1059.5 L238.0 1057.3 L239.7 1055.9 L241.6 1053.7 L243.6 1051.8 L245.9 1050.5 L248.2 1048.1 L250.3 1046.0 L252.0 1044.8 L254.3 1043.2 L256.8 1041.3 L258.6 1039.2 L260.7 1037.7 L262.7 1035.1 L264.6 1034.0 L266.7 1032.1 L269.0 1029.5 L271.4 1027.8 L273.5 1025.4 L275.3 1023.6 L277.6 1022.2 L279.7 1019.8 L281.9 1018.4 L283.6 1016.6 L285.9 1014.6 L288.1 1013.0 L289.8 1011.4 L292.1 1009.0 L294.3 1007.4 L296.4 1005.6 L298.5 1003.2 L300.6 1001.2 L302.8 998.8 L305.0 997.8 L306.9 996.1 L309.3 994.1 L310.9 992.7 L313.0 990.7 L315.2 988.6 L317.1 986.4 L319.0 984.3 L321.1 982.7 L323.8 981.0 L325.5 978.9 L327.4 977.0 L330.2 975.1 L332.0 973.5 L334.0 971.0 L335.9 969.5 L338.3 967.8 L340.2 966.1 L342.4 964.2 L344.4 962.0 L346.4 960.0 L348.5 957.8 L350.3 956.6 L352.4 954.5 L354.3 952.4 L356.6 950.2 L358.7 948.1 L360.7 946.9 L362.2 944.6 L365.0 942.9 L366.7 941.5 L368.8 938.6 L371.0 937.0 L373.1 935.6 L375.5 933.8 L377.4 931.5 L379.5 930.0 L381.8 928.0 L383.9 926.2 L385.6 924.6 L387.6 922.7 L389.6 921.2 L391.7 919.2 L394.2 917.6 L396.3 915.0 L398.3 913.5 L400.4 911.1 L402.5 909.1 L404.8 907.4 L407.1 906.3 L408.7 904.4 L411.5 902.2 L413.7 901.5 L415.6 899.8 L418.0 897.8 L420.2 896.2 L422.2 894.6 L424.8 892.6 L426.8 892.1 L429.4 889.7 L431.4 888.1 L433.9 886.5 L436.4 884.7 L438.5 883.0 L440.6 881.8 L443.1 879.8 L445.5 878.3 L448.0 876.9 L450.0 876.0 L452.8 874.0 L454.9 872.6 L457.2 871.5 L459.9 869.6 L462.2 868.3 L464.6 867.2 L466.9 865.7 L469.0 864.3 L472.0 863.6 L474.6 861.8 L477.1 860.7 L480.1 859.3 L482.4 858.9 L485.3 858.1 L487.9 856.8 L490.2 856.8 L492.9 855.8 L495.7 855.1 L498.5 853.8 L501.4 853.6 L503.9 853.1 L506.6 851.9" fill="none" stroke="#ff0000" stroke-width="1.80" stroke-linejoin="round" stroke-linecap="round"/>
<path d="M61.7 1180.8 L64.9 1181.1 L67.6 1181.1 L70.5 1181.0 L73.4 1181.0 L76.0 1180.2 L79.0 1180.2 L82.0 1179.7 L85.0 1179.2 L87.8 1179.1 L90.4 1179.1 L93.3 1178.4 L96.2 1178.3 L99.7 1178.3 L102.2 1177.6 L105.2 1177.2 L107.9 1176.6 L110.8 1175.9 L113.6 1174.7 L116.4 1174.9 L119.3 1173.4 L122.3 1173.2 L124.7 1172.4 L127.8 1171.6 L130.5 1170.8 L133.3 1169.7 L136.2 1169.1 L139.1 1167.4 L141.2 1166.9 L144.2 1165.0 L147.1 1164.5 L149.5 1162.6 L151.5 1161.4 L154.3 1160.0 L156.4 1157.1 L158.7 1155.8 L161.1 1154.1 L162.9 1152.3 L165.2 1150.4 L167.4 1148.0 L169.1 1145.9 L171.0 1143.6 L173.6 1141.4 L174.8 1139.2 L177.2 1137.2 L178.7 1134.7 L180.7 1132.6 L182.4 1130.6 L184.3 1128.2 L186.2 1125.5 L187.8 1123.3 L189.8 1121.3 L191.9 1118.7 L193.4 1116.1 L195.0 1114.1 L197.3 1112.2 L198.9 1109.7 L200.9 1107.4 L202.5 1105.3 L204.1 1102.4 L205.8 1101.0 L207.6 1097.9 L209.2 1095.4 L210.5 1093.7 L212.1 1090.3 L213.8 1088.1 L216.0 1085.8 L217.5 1083.2 L219.1 1081.1 L221.0 1079.1 L223.2 1076.7 L224.6 1074.5 L226.8 1072.6 L229.0 1070.8 L231.1 1068.6 L233.2 1065.5 L234.9 1064.5 L237.2 1062.3 L238.8 1060.2 L241.3 1057.7 L243.3 1055.8 L245.4 1053.8 L247.8 1051.4 L249.6 1050.1 L251.6 1047.9 L253.9 1045.6 L256.2 1043.2 L257.7 1041.8 L260.0 1039.5 L261.8 1037.5 L263.6 1035.0 L265.8 1033.8 L268.1 1030.9 L270.0 1029.4 L272.0 1026.2 L274.1 1024.7 L276.0 1022.6 L278.1 1019.7 L280.0 1018.2 L282.3 1015.9 L283.8 1013.8 L286.4 1011.9 L288.2 1009.7 L290.6 1008.1 L292.3 1006.1 L294.1 1004.0 L296.8 1001.6 L299.0 999.7 L300.4 998.2 L303.0 995.6 L305.0 993.6 L306.8 991.4 L309.2 989.7 L311.0 987.7 L313.4 985.6 L315.5 983.5 L317.3 981.5 L319.3 979.1 L321.5 977.3 L323.1 974.8 L325.5 973.1 L327.7 971.2 L330.2 968.6 L332.1 967.1 L334.0 965.0 L335.9 962.5 L338.2 960.2 L340.2 958.2 L341.8 956.2 L344.0 954.4 L345.6 952.2 L347.6 950.2 L348.8 948.2 L351.5 945.0 L352.8 942.1 L354.4 939.9 L356.1 937.3 L357.5 935.3 L359.5 932.9 L361.4 931.1 L362.8 927.8 L364.4 925.8 L366.1 923.5 L367.9 921.2 L369.6 918.7 L371.4 917.3 L373.4 914.3 L375.3 912.1 L377.0 910.1 L379.1 907.7 L380.6 905.9 L382.3 902.8 L384.1 900.8 L386.4 898.4 L388.0 896.3 L390.1 894.3 L391.8 891.7 L393.8 889.1 L395.9 887.5 L397.5 885.0 L399.6 883.3 L402.1 881.1 L404.3 879.6 L406.1 877.2 L408.3 874.9 L410.4 873.4 L412.6 871.8 L415.4 869.8 L417.9 868.2 L420.3 866.7 L422.9 865.4 L425.3 864.0 L428.4 863.6 L431.0 862.3 L433.5 860.8 L436.7 860.6 L439.1 859.4 L441.8 858.7 L444.9 857.9 L447.5 857.5 L450.3 855.7 L453.5 855.7 L456.2 855.3 L459.0 854.5 L462.1 853.5 L464.8 853.1 L467.9 853.1 L470.8 853.1 L473.7 851.7 L476.2 851.8 L479.5 851.8 L482.2 851.5 L485.2 851.3 L488.0 851.3 L491.1 851.0 L493.8 850.1 L496.6 850.3 L499.8 849.9 L502.5 850.1 L505.3 850.5" fill="none" stroke="#000000" stroke-width="2.40" stroke-linejoin="round" stroke-linecap="round"/>
<path d="M165.8 1181.0 L168.3 1180.5 L170.2 1179.9 L172.4 1179.4 L174.6 1178.8 L176.5 1179.0 L178.9 1178.3 L180.7 1177.9 L183.1 1177.6 L185.3 1177.2 L187.4 1176.1 L189.5 1176.5 L191.5 1175.1 L193.9 1175.8 L195.9 1174.8 L197.9 1173.9 L200.0 1173.7 L202.0 1172.6 L204.1 1172.0 L206.1 1171.0 L207.7 1170.3 L210.3 1169.1 L211.6 1167.2 L213.2 1165.9 L214.8 1164.5 L215.7 1162.6 L217.2 1160.2 L218.4 1159.6 L219.3 1156.4 L220.3 1154.5 L221.1 1152.7 L222.0 1151.2 L223.0 1149.6 L223.9 1147.0 L224.5 1145.0 L225.6 1143.1 L226.4 1140.9 L227.0 1139.0 L227.9 1136.6 L228.8 1135.1 L229.9 1133.1 L230.7 1130.2 L231.2 1128.9 L232.2 1127.1 L233.1 1125.2 L234.3 1122.8 L235.1 1120.7 L236.2 1118.9 L237.3 1117.4 L238.1 1115.0 L239.1 1113.0 L240.0 1111.7 L240.7 1109.1 L241.8 1107.1 L242.7 1105.4 L243.6 1103.5 L245.0 1101.8 L245.7 1099.3 L246.0 1097.1 L247.3 1095.6 L248.4 1093.8 L249.4 1091.2 L250.2 1089.6 L251.2 1087.8 L252.1 1085.9 L253.1 1083.8 L254.2 1081.8 L255.1 1079.7 L255.9 1077.7 L256.9 1076.3 L257.9 1073.7 L258.7 1072.4 L259.7 1069.7 L260.9 1069.0 L261.9 1065.7 L262.2 1064.7 L264.1 1061.9 L264.3 1060.2 L265.5 1058.2 L265.9 1056.0 L267.2 1054.9 L267.9 1052.3 L268.8 1049.8 L269.6 1048.4 L270.4 1046.4 L271.4 1043.8 L272.0 1042.3 L272.9 1040.2 L273.7 1038.4 L274.3 1036.3 L275.5 1034.1 L276.2 1032.0 L276.9 1030.3 L277.6 1028.1 L278.6 1025.6 L279.4 1023.8 L280.3 1021.8 L281.1 1019.9 L281.7 1018.6 L283.0 1015.8 L283.9 1014.1 L284.8 1012.5 L285.6 1010.1 L286.7 1008.2 L287.6 1006.5 L288.6 1004.2 L289.4 1002.2 L290.3 1000.4 L291.4 998.4 L292.1 996.1 L293.1 994.0 L294.2 992.3 L294.9 990.8 L295.5 988.4 L296.8 986.8 L297.7 984.6 L299.0 982.4 L299.4 979.8 L300.6 978.7 L302.0 976.6 L302.1 974.2 L303.5 972.9 L304.4 970.7 L305.1 968.9 L306.4 966.6 L307.1 964.9 L307.7 962.8 L309.1 961.2 L309.9 959.0 L311.3 956.6 L312.1 955.1 L312.8 953.1 L314.0 951.0 L315.3 948.7 L315.6 947.5 L316.6 945.0 L317.7 943.7 L318.7 941.1 L319.6 939.3 L320.2 937.3 L321.5 935.4 L322.2 934.2 L323.2 931.3 L324.5 930.1 L325.1 927.7 L326.3 925.4 L327.1 924.0 L328.1 921.9 L329.1 920.0 L330.1 917.3 L331.1 915.9 L331.8 913.7 L333.2 911.8 L334.0 909.9 L335.0 907.9 L336.0 906.4 L336.6 904.1 L337.6 901.5 L338.5 900.4 L339.4 898.1 L340.6 896.1 L341.4 893.5 L342.6 892.1 L343.0 889.8 L343.8 888.2 L344.3 886.1 L345.0 884.2 L346.0 881.8 L346.8 879.4 L347.6 878.2 L348.7 876.0 L349.7 873.8 L350.7 871.8 L351.9 869.9 L353.0 867.8 L354.3 866.2 L356.0 864.9 L357.3 864.0 L359.1 862.3 L361.2 861.5 L363.1 859.8 L364.5 859.6 L366.9 858.3 L369.3 858.1 L371.1 857.4 L373.4 856.4 L374.9 855.8 L377.4 855.6 L379.0 854.5 L381.7 853.6 L383.4 854.0 L386.1 854.0 L387.8 852.3 L390.1 852.5 L392.3 851.7 L394.4 851.5 L396.2 851.0 L398.8 851.2 L400.7 850.4 L403.5 850.2" fill="none" stroke="#808000" stroke-width="2.60" stroke-linejoin="round" stroke-linecap="round"/>
<path d="M166.1 1181.1 L168.0 1180.7 L170.4 1181.1 L173.0 1180.3 L175.2 1181.1 L177.9 1180.5 L180.3 1179.9 L182.2 1179.9 L184.9 1180.0 L187.2 1180.1 L189.4 1178.7 L191.9 1179.0 L193.9 1178.5 L196.4 1177.9 L198.5 1178.0 L200.8 1177.4 L203.6 1177.2 L206.0 1176.3 L208.0 1176.0 L210.5 1175.7 L212.5 1175.1 L214.7 1174.6 L217.2 1173.8 L219.7 1173.5 L221.6 1172.9 L223.9 1172.1 L226.1 1171.5 L228.2 1170.9 L230.2 1169.7 L232.8 1169.3 L234.7 1168.1 L237.3 1167.1 L239.0 1165.7 L241.1 1164.6 L242.9 1163.0 L244.1 1161.1 L245.4 1159.2 L247.1 1157.8 L248.0 1155.3 L248.9 1152.6 L249.8 1150.7 L249.9 1148.5 L251.2 1146.4 L251.6 1143.9 L252.2 1141.4 L252.8 1139.8 L253.6 1136.5 L253.8 1134.3 L254.1 1132.3 L254.4 1130.0 L255.7 1127.9 L255.3 1125.6 L256.3 1123.7 L256.9 1120.6 L257.4 1119.7 L258.1 1116.8 L258.9 1114.1 L259.3 1111.9 L260.1 1109.7 L260.8 1106.9 L261.0 1105.4 L262.0 1102.7 L262.6 1100.6 L263.2 1098.2 L263.8 1096.0 L264.4 1094.0 L265.0 1091.3 L265.6 1089.9 L266.5 1086.8 L267.0 1084.7 L267.6 1082.6 L268.6 1080.6 L269.2 1078.2 L269.5 1075.9 L270.6 1073.7 L270.8 1071.4 L271.7 1068.8 L271.7 1067.0 L273.0 1064.3 L273.2 1061.9 L273.6 1059.9 L274.1 1057.5 L274.3 1055.5 L275.0 1053.2 L275.6 1050.6 L276.6 1048.6 L276.7 1046.2 L277.1 1043.4 L277.9 1042.1 L278.2 1039.3 L278.5 1036.9 L278.9 1034.9 L279.2 1032.0 L279.9 1029.9 L280.0 1028.1 L281.0 1024.9 L281.0 1022.9 L281.8 1021.4 L282.5 1018.8 L282.6 1016.0 L283.3 1014.0 L284.3 1012.0 L284.4 1009.2 L285.3 1007.2 L286.0 1005.0 L286.0 1002.7 L287.1 1000.9 L287.4 998.2 L288.4 995.9 L289.0 993.7 L289.8 991.3 L290.2 988.9 L290.9 986.8 L291.5 984.4 L292.6 982.9 L292.8 980.7 L293.7 977.7 L293.8 974.7 L294.4 973.2 L295.3 971.2 L295.6 968.6 L296.5 966.7 L297.0 964.4 L298.1 961.8 L298.6 959.6 L299.4 957.1 L299.7 955.0 L300.1 952.6 L300.7 950.5 L301.8 948.8 L301.8 946.0 L302.5 944.2 L303.0 941.7 L304.1 938.9 L304.5 937.0 L305.3 934.6 L306.0 932.1 L306.9 930.1 L307.2 928.4 L307.1 926.1 L307.8 923.3 L308.8 921.0 L309.8 918.9 L309.9 916.8 L310.7 914.8 L311.1 912.0 L311.9 909.6 L312.7 907.6 L313.2 904.8 L313.9 903.1 L314.6 901.0 L314.9 898.0 L315.3 896.5 L315.3 893.7 L316.1 891.6 L317.1 889.3 L317.2 887.0 L317.9 884.8 L318.5 882.3 L319.3 879.7 L320.3 878.4 L320.9 875.9 L322.0 873.9 L323.5 871.8 L324.4 870.2 L326.3 868.2 L327.9 866.5 L330.0 866.0 L332.2 864.4 L334.2 863.1 L336.4 862.3 L338.3 861.5 L340.7 859.7 L342.7 859.4 L344.9 858.9 L347.3 858.4 L349.7 857.4 L351.9 857.0 L354.2 856.1 L356.3 855.8 L358.8 854.8 L361.2 854.8 L363.8 855.0 L365.6 853.8 L368.2 853.9 L370.4 853.0 L373.3 852.7 L375.2 853.4 L377.7 852.1 L379.8 852.0 L381.8 851.6 L384.1 850.7 L386.6 851.2 L388.8 851.2 L391.4 850.4 L393.5 850.1 L395.9 850.1 L398.0 850.3 L401.1 849.7 L402.8 850.0" fill="none" stroke="#0000ff" stroke-width="2.40" stroke-linejoin="round" stroke-linecap="round"/>
<path d="M165.5 1181.4 L167.9 1181.7 L170.5 1181.5 L172.7 1181.1 L175.4 1181.4 L178.0 1180.7 L180.6 1181.2 L182.5 1180.8 L185.4 1181.0 L187.7 1180.9 L189.7 1180.4 L192.4 1180.7 L194.8 1180.5 L197.6 1180.1 L200.3 1180.7 L202.7 1180.2 L204.9 1179.4 L207.6 1179.3 L209.9 1179.5 L212.3 1179.2 L214.3 1178.5 L216.9 1178.7 L219.4 1177.9 L221.8 1177.2 L224.2 1176.8 L226.7 1176.4 L229.4 1175.5 L231.7 1175.1 L234.1 1174.3 L236.3 1174.1 L238.6 1173.7 L241.1 1172.3 L243.3 1172.0 L245.7 1170.5 L247.9 1169.8 L250.0 1168.4 L252.1 1166.8 L254.0 1165.4 L255.7 1163.4 L256.8 1161.9 L258.1 1159.7 L259.2 1157.7 L260.0 1154.6 L261.0 1153.0 L261.1 1150.3 L261.8 1148.0 L262.3 1145.3 L262.9 1143.4 L263.0 1141.0 L263.4 1138.4 L263.9 1135.8 L264.7 1132.6 L264.7 1131.0 L265.3 1128.4 L265.8 1125.9 L265.8 1123.7 L266.7 1121.5 L267.0 1118.8 L267.0 1116.2 L268.0 1113.6 L268.5 1111.6 L268.7 1109.3 L269.1 1106.8 L269.7 1104.3 L270.0 1101.6 L270.2 1099.0 L270.6 1097.2 L271.1 1094.7 L271.6 1091.5 L272.3 1089.4 L272.3 1087.5 L272.8 1085.1 L273.3 1082.2 L274.2 1080.6 L274.7 1077.9 L274.9 1075.4 L275.5 1072.6 L275.9 1069.8 L276.0 1068.1 L276.5 1065.9 L277.1 1063.2 L277.4 1060.2 L277.3 1058.4 L277.8 1055.5 L278.3 1052.5 L278.3 1050.9 L279.1 1047.5 L279.4 1045.9 L279.8 1043.7 L279.6 1041.3 L280.1 1039.4 L280.6 1036.3 L280.6 1033.3 L281.0 1031.4 L281.2 1029.0 L281.6 1026.1 L281.6 1023.3 L282.2 1021.3 L282.8 1018.8 L283.1 1016.4 L283.1 1014.0 L283.6 1011.9 L283.8 1009.4 L284.6 1007.2 L284.9 1004.2 L285.6 1002.2 L285.8 999.0 L286.1 997.1 L286.9 994.2 L286.9 992.0 L287.6 990.2 L288.3 987.1 L288.3 985.4 L288.3 983.1 L289.1 980.3 L290.2 977.6 L290.1 975.0 L290.4 972.6 L291.0 970.4 L291.8 967.7 L291.9 965.6 L292.2 963.0 L293.2 961.0 L293.3 957.8 L293.9 956.1 L293.8 953.8 L294.9 950.8 L295.1 949.1 L295.8 946.7 L296.2 944.0 L296.3 940.9 L296.8 939.0 L297.2 936.0 L298.3 934.0 L298.3 931.3 L298.8 929.3 L299.1 926.6 L299.0 924.5 L299.6 922.3 L300.6 919.3 L300.8 917.3 L301.0 914.6 L301.7 912.2 L302.1 909.8 L302.9 907.2 L302.8 904.8 L303.2 902.9 L303.8 900.5 L304.4 897.7 L304.6 895.6 L305.2 893.2 L305.4 890.6 L305.8 887.4 L306.3 885.6 L306.7 883.5 L307.4 880.8 L307.6 878.3 L308.6 875.8 L308.8 873.7 L309.7 871.2 L312.0 869.4 L312.6 867.2 L314.7 865.4 L316.4 864.0 L318.7 862.8 L321.1 861.1 L322.8 860.2 L325.3 859.1 L327.4 857.9 L329.9 857.5 L331.8 857.0 L334.8 856.3 L336.9 855.6 L339.1 855.0 L341.7 854.2 L344.1 854.0 L346.8 854.1 L348.7 853.0 L351.2 852.7 L354.0 852.7 L356.2 851.9 L358.7 851.7 L361.3 851.1 L363.4 851.4 L366.1 851.4 L368.2 850.9 L370.7 851.0 L373.5 850.9 L375.7 849.7 L378.2 850.8 L380.6 849.8 L383.3 850.3 L385.7 850.2 L388.2 849.9 L390.8 849.8 L393.5 849.7 L395.5 849.6 L398.3 849.5 L400.5 849.3 L402.8 849.5" fill="none" stroke="#008000" stroke-width="2.40" stroke-linejoin="round" stroke-linecap="round"/>
<path d="M249.3 1180.4 L251.4 1180.8 L253.6 1180.6 L254.7 1179.9 L256.8 1179.5 L258.5 1178.7 L259.9 1177.9 L261.2 1176.7 L262.3 1175.2 L263.6 1174.3 L264.2 1172.5 L265.2 1171.0 L265.6 1169.2 L266.7 1167.4 L267.3 1165.7 L267.9 1164.2 L268.0 1162.9 L268.7 1161.0 L269.4 1159.2 L269.6 1157.5 L270.4 1155.4 L271.0 1154.5 L270.8 1152.0 L271.2 1150.6 L271.2 1149.5 L271.4 1146.3 L271.4 1144.9 L272.1 1143.3 L271.9 1141.8 L272.2 1139.5 L272.4 1138.2 L272.4 1136.5 L272.7 1134.8 L273.0 1132.2 L273.5 1131.4 L273.5 1129.9 L273.9 1127.8 L273.9 1125.7 L274.1 1123.9 L274.4 1121.6 L274.4 1120.7 L274.8 1119.3 L274.9 1117.3 L275.1 1114.4 L275.6 1113.4 L275.3 1111.7 L275.5 1109.9 L275.9 1108.5 L276.1 1106.0 L276.2 1104.5 L276.7 1103.1 L276.8 1101.5 L277.0 1099.5 L276.8 1098.0 L277.6 1096.0 L277.5 1093.8 L277.5 1092.8 L278.2 1090.4 L278.1 1088.3 L278.1 1087.2 L278.3 1085.9 L278.7 1083.8 L278.8 1082.1 L278.9 1080.1 L279.4 1077.5 L279.6 1076.7 L279.7 1074.8 L280.3 1072.2 L280.6 1071.0 L280.8 1069.2 L280.6 1068.0 L280.8 1065.9 L280.7 1064.2 L281.1 1062.5 L281.1 1060.2 L281.4 1058.2 L281.4 1057.1 L281.7 1055.2 L281.6 1053.5 L281.8 1051.7 L281.9 1049.8 L281.3 1048.4 L281.7 1046.5 L282.0 1044.5 L282.0 1042.3 L282.1 1040.3 L282.0 1038.9 L282.3 1037.5 L282.2 1036.0 L282.3 1033.9 L282.2 1032.4 L282.6 1030.8 L282.6 1029.4 L282.5 1027.0 L282.7 1025.6 L282.2 1023.4 L282.9 1021.2 L282.4 1019.1 L282.7 1018.1 L282.4 1016.5 L282.9 1015.2 L283.0 1012.5 L283.7 1011.1 L283.3 1009.1 L283.1 1006.7 L283.9 1005.8 L284.1 1003.8 L284.6 1001.7 L284.8 1000.9 L284.5 998.4 L285.0 997.0 L285.2 995.0 L285.5 993.1 L285.6 991.5 L285.9 990.0 L286.2 987.8 L285.9 985.8 L286.3 985.0 L287.0 982.9 L287.2 980.7 L287.2 979.2 L287.5 977.0 L287.8 975.7 L288.1 974.2 L287.9 971.6 L288.0 970.6 L288.6 968.9 L288.5 966.8 L288.6 965.1 L289.1 963.2 L289.1 961.4 L289.3 959.2 L289.5 958.5 L289.9 956.1 L290.0 954.6 L290.2 952.7 L290.1 951.1 L290.3 949.4 L290.5 947.2 L290.8 945.8 L291.4 943.8 L291.3 941.9 L291.5 940.8 L292.2 939.0 L292.1 936.6 L292.1 935.0 L292.5 933.0 L292.6 931.2 L293.1 929.5 L293.2 928.2 L293.0 925.9 L293.7 924.1 L293.4 922.8 L294.3 920.8 L294.2 919.6 L293.8 917.2 L294.9 915.6 L294.5 913.7 L294.4 911.5 L295.5 910.5 L295.1 908.9 L295.4 907.2 L295.6 905.1 L295.9 903.6 L296.2 901.6 L295.9 899.8 L297.0 897.8 L296.8 896.3 L296.8 894.3 L297.2 892.9 L297.2 890.8 L297.6 888.9 L297.7 887.4 L298.0 885.7 L298.1 883.4 L298.2 881.9 L298.5 880.2 L298.6 878.8 L299.1 877.1 L299.0 875.4 L299.3 873.4 L300.2 871.5 L300.2 869.5 L301.1 868.3 L301.7 866.5 L301.7 865.0 L302.9 863.6 L303.9 862.2 L304.2 859.7 L305.5 858.6 L305.9 856.5 L306.7 855.8 L308.2 853.7 L309.6 852.8 L311.4 851.8 L312.7 852.1 L314.2 851.3 L316.0 851.1 L318.3 850.5 L319.6 850.6" fill="none" stroke="#ff8000" stroke-width="2.20" stroke-linejoin="round" stroke-linecap="round"/>
<path d="M225.9 1180.6 L227.6 1180.8 L229.9 1179.7 L232.0 1180.7 L234.4 1180.1 L236.4 1179.7 L238.0 1179.7 L240.3 1179.5 L242.3 1179.7 L244.1 1180.0 L246.0 1179.8 L248.4 1179.8 L250.5 1179.0 L252.4 1178.9 L254.0 1179.6 L256.6 1179.1 L258.6 1179.2 L260.4 1178.4 L262.4 1177.2 L264.1 1176.9 L266.2 1175.5 L267.6 1174.1 L268.8 1172.2 L270.1 1170.7 L270.9 1168.8 L271.3 1167.2 L272.1 1165.0 L272.5 1163.5 L272.6 1160.7 L273.2 1159.1 L273.7 1157.0 L273.8 1154.6 L274.5 1152.5 L274.8 1151.1 L274.7 1149.0 L275.1 1146.7 L275.6 1144.9 L275.4 1142.5 L275.5 1140.8 L275.8 1138.5 L275.8 1136.7 L276.1 1134.9 L276.6 1132.5 L276.7 1130.8 L277.0 1128.2 L277.2 1126.4 L277.1 1124.0 L277.4 1122.4 L277.5 1120.4 L277.6 1118.3 L277.7 1116.2 L278.1 1114.7 L278.2 1112.7 L278.4 1109.8 L278.7 1108.5 L278.9 1105.6 L278.6 1103.9 L278.9 1102.0 L279.1 1100.0 L279.4 1097.7 L279.7 1095.7 L279.5 1093.9 L279.8 1091.7 L280.1 1089.6 L280.4 1088.0 L280.6 1086.1 L280.3 1083.7 L280.6 1081.7 L280.7 1079.7 L281.3 1077.5 L281.4 1075.4 L281.4 1073.3 L281.5 1071.7 L281.9 1069.5 L282.2 1067.4 L282.0 1065.5 L282.2 1063.5 L282.3 1061.8 L282.3 1059.2 L282.5 1057.2 L282.2 1055.3 L282.3 1052.9 L282.1 1051.5 L282.5 1049.4 L282.8 1047.3 L282.2 1045.0 L282.5 1043.2 L282.8 1041.3 L282.7 1039.1 L282.3 1036.8 L283.0 1034.3 L282.5 1033.1 L283.1 1030.6 L282.7 1028.4 L282.7 1026.9 L282.9 1024.7 L282.9 1022.1 L283.0 1020.5 L283.0 1018.4 L282.9 1016.7 L283.3 1013.8 L283.3 1012.3 L283.3 1010.3 L283.4 1008.7 L283.5 1005.9 L283.7 1003.4 L284.1 1001.8 L284.2 1000.2 L284.3 998.4 L284.7 996.6 L284.7 994.2 L285.0 991.8 L285.2 990.3 L285.0 988.0 L285.3 985.9 L285.9 983.9 L285.5 982.2 L286.1 979.5 L285.8 977.5 L286.3 975.7 L286.1 973.7 L286.4 971.4 L286.6 969.4 L286.7 967.7 L287.2 966.0 L287.4 963.8 L287.5 961.7 L287.6 959.8 L288.0 956.8 L288.1 954.9 L288.1 953.2 L287.9 951.0 L288.5 949.0 L288.6 947.3 L288.7 944.8 L289.0 943.1 L289.1 940.5 L289.1 938.8 L289.4 937.5 L289.6 934.9 L289.7 933.1 L289.7 931.2 L289.9 928.8 L290.2 927.1 L290.6 924.9 L290.9 923.1 L290.5 920.6 L290.6 918.3 L290.9 916.4 L290.9 914.5 L291.2 912.8 L291.5 910.6 L291.4 908.5 L291.9 906.5 L292.1 904.9 L292.4 902.3 L292.6 900.9 L292.7 898.1 L293.1 896.2 L292.8 894.6 L293.1 892.5 L293.4 890.1 L293.6 888.3 L294.0 886.0 L294.0 884.5 L294.6 882.4 L294.8 880.0 L294.8 878.3 L295.1 876.0 L295.1 874.1 L295.2 872.1 L296.0 869.9 L296.5 868.1 L296.9 866.1 L297.2 864.2 L298.0 862.5 L299.3 860.2 L300.3 858.1 L301.5 856.9 L302.8 855.7 L304.8 854.5 L306.8 853.7 L308.5 853.2 L310.2 852.5 L312.4 852.1 L314.2 851.6 L316.4 852.0 L318.7 851.4 L320.4 851.1 L322.6 851.0 L324.9 851.2 L326.6 851.7 L328.9 851.4 L330.7 850.6 L332.6 851.0 L334.8 851.0 L336.8 851.0 L338.5 850.8 L340.7 850.4 L342.9 850.6" fill="none" stroke="#8000ff" stroke-width="2.20" stroke-linejoin="round" stroke-linecap="round"/>
<rect x="61.00" y="834.50" width="445.50" height="361.50" fill="none" stroke="#000" stroke-width="1.6"/>
<line x1="61.00" y1="1196.00" x2="61.00" y2="1203.20" stroke="#000" stroke-width="1.60" />
<line x1="61.00" y1="834.50" x2="61.00" y2="841.50" stroke="#000" stroke-width="1.60" />
<text x="61.00" y="1222.50" font-size="17.60" font-weight="bold" text-anchor="middle" >-750</text>
<line x1="98.25" y1="1196.00" x2="98.25" y2="1200.00" stroke="#000" stroke-width="1.60" />
<line x1="135.50" y1="1196.00" x2="135.50" y2="1203.20" stroke="#000" stroke-width="1.60" />
<line x1="135.50" y1="834.50" x2="135.50" y2="841.50" stroke="#000" stroke-width="1.60" />
<text x="135.50" y="1222.50" font-size="17.60" font-weight="bold" text-anchor="middle" >-500</text>
<line x1="172.60" y1="1196.00" x2="172.60" y2="1200.00" stroke="#000" stroke-width="1.60" />
<line x1="209.70" y1="1196.00" x2="209.70" y2="1203.20" stroke="#000" stroke-width="1.60" />
<line x1="209.70" y1="834.50" x2="209.70" y2="841.50" stroke="#000" stroke-width="1.60" />
<text x="209.70" y="1222.50" font-size="17.60" font-weight="bold" text-anchor="middle" >-250</text>
<line x1="246.85" y1="1196.00" x2="246.85" y2="1200.00" stroke="#000" stroke-width="1.60" />
<line x1="284.00" y1="1196.00" x2="284.00" y2="1203.20" stroke="#000" stroke-width="1.60" />
<line x1="284.00" y1="834.50" x2="284.00" y2="841.50" stroke="#000" stroke-width="1.60" />
<text x="284.00" y="1222.50" font-size="17.60" font-weight="bold" text-anchor="middle" >0</text>
<line x1="321.00" y1="1196.00" x2="321.00" y2="1200.00" stroke="#000" stroke-width="1.60" />
<line x1="358.00" y1="1196.00" x2="358.00" y2="1203.20" stroke="#000" stroke-width="1.60" />
<line x1="358.00" y1="834.50" x2="358.00" y2="841.50" stroke="#000" stroke-width="1.60" />
<text x="358.00" y="1222.50" font-size="17.60" font-weight="bold" text-anchor="middle" >250</text>
<line x1="395.25" y1="1196.00" x2="395.25" y2="1200.00" stroke="#000" stroke-width="1.60" />
<line x1="432.50" y1="1196.00" x2="432.50" y2="1203.20" stroke="#000" stroke-width="1.60" />
<line x1="432.50" y1="834.50" x2="432.50" y2="841.50" stroke="#000" stroke-width="1.60" />
<text x="432.50" y="1222.50" font-size="17.60" font-weight="bold" text-anchor="middle" >500</text>
<line x1="469.50" y1="1196.00" x2="469.50" y2="1200.00" stroke="#000" stroke-width="1.60" />
<line x1="506.50" y1="1196.00" x2="506.50" y2="1203.20" stroke="#000" stroke-width="1.60" />
<line x1="506.50" y1="834.50" x2="506.50" y2="841.50" stroke="#000" stroke-width="1.60" />
<text x="506.50" y="1222.50" font-size="17.60" font-weight="bold" text-anchor="middle" >750</text>
<line x1="61.00" y1="1179.80" x2="54.00" y2="1179.80" stroke="#000" stroke-width="1.60" />
<line x1="506.50" y1="1179.80" x2="499.50" y2="1179.80" stroke="#000" stroke-width="1.60" />
<text x="48.80" y="1185.80" font-size="16.70" font-weight="bold" text-anchor="end" >-1.0</text>
<line x1="61.00" y1="1138.65" x2="57.00" y2="1138.65" stroke="#000" stroke-width="1.60" />
<line x1="61.00" y1="1097.50" x2="54.00" y2="1097.50" stroke="#000" stroke-width="1.60" />
<line x1="506.50" y1="1097.50" x2="499.50" y2="1097.50" stroke="#000" stroke-width="1.60" />
<text x="48.80" y="1103.50" font-size="16.70" font-weight="bold" text-anchor="end" >-0.5</text>
<line x1="61.00" y1="1056.45" x2="57.00" y2="1056.45" stroke="#000" stroke-width="1.60" />
<line x1="61.00" y1="1015.40" x2="54.00" y2="1015.40" stroke="#000" stroke-width="1.60" />
<line x1="506.50" y1="1015.40" x2="499.50" y2="1015.40" stroke="#000" stroke-width="1.60" />
<text x="48.80" y="1021.40" font-size="16.70" font-weight="bold" text-anchor="end" >0.0</text>
<line x1="61.00" y1="973.95" x2="57.00" y2="973.95" stroke="#000" stroke-width="1.60" />
<line x1="61.00" y1="932.50" x2="54.00" y2="932.50" stroke="#000" stroke-width="1.60" />
<line x1="506.50" y1="932.50" x2="499.50" y2="932.50" stroke="#000" stroke-width="1.60" />
<text x="48.80" y="938.50" font-size="16.70" font-weight="bold" text-anchor="end" >0.5</text>
<line x1="61.00" y1="891.25" x2="57.00" y2="891.25" stroke="#000" stroke-width="1.60" />
<line x1="61.00" y1="850.00" x2="54.00" y2="850.00" stroke="#000" stroke-width="1.60" />
<line x1="506.50" y1="850.00" x2="499.50" y2="850.00" stroke="#000" stroke-width="1.60" />
<text x="48.80" y="856.00" font-size="16.70" font-weight="bold" text-anchor="end" >1.0</text>
<text x="284.30" y="1243.20" font-size="17.80" font-weight="bold" text-anchor="middle" >Field (Oe)</text>
<text transform="translate(12.6,1016.5) rotate(-90)" font-size="17.6" font-weight="bold" text-anchor="middle">M/M<tspan font-size="14.3" dy="7.3">S</tspan></text>
<text x="1.50" y="1243.00" font-size="18.50" font-weight="normal" text-anchor="start" >(c)</text>
<rect x="72" y="841.7" width="88" height="162.7" fill="#fff" stroke="#666" stroke-width="0.9"/>
<line x1="76.30" y1="859.90" x2="114.00" y2="859.90" stroke="#8000ff" stroke-width="2.00" />
<text x="119.30" y="865.80" font-size="16.40" font-weight="bold" text-anchor="start" >20:1</text>
<line x1="76.30" y1="882.22" x2="114.00" y2="882.22" stroke="#ff8000" stroke-width="2.00" />
<text x="119.30" y="888.12" font-size="16.40" font-weight="bold" text-anchor="start" >10:1</text>
<line x1="76.30" y1="904.54" x2="114.00" y2="904.54" stroke="#008000" stroke-width="2.00" />
<text x="119.30" y="910.44" font-size="16.40" font-weight="bold" text-anchor="start" >5:1</text>
<line x1="76.30" y1="926.86" x2="114.00" y2="926.86" stroke="#0000ff" stroke-width="2.00" />
<text x="119.30" y="932.76" font-size="16.40" font-weight="bold" text-anchor="start" >3:1</text>
<line x1="76.30" y1="949.18" x2="114.00" y2="949.18" stroke="#808000" stroke-width="2.00" />
<text x="119.30" y="955.08" font-size="16.40" font-weight="bold" text-anchor="start" >1.5:1</text>
<line x1="76.30" y1="971.50" x2="114.00" y2="971.50" stroke="#ff0000" stroke-width="2.00" />
<text x="119.30" y="977.40" font-size="16.40" font-weight="bold" text-anchor="start" >1:2</text>
<line x1="76.30" y1="993.82" x2="114.00" y2="993.82" stroke="#000000" stroke-width="2.00" />
<text x="119.30" y="999.72" font-size="16.40" font-weight="bold" text-anchor="start" >1:20</text>
</svg>
</body></html>
